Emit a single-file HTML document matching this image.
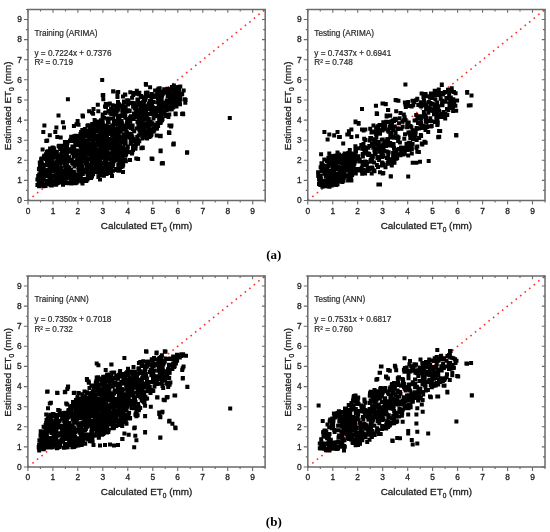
<!DOCTYPE html>
<html><head><meta charset="utf-8"><style>
html,body{margin:0;padding:0;background:#fff;}
svg{display:block;}
.tk{font-family:"Liberation Sans",Arial,sans-serif;font-size:8.4px;fill:#222;stroke:#222;stroke-width:0.3px;}
.at{font-family:"Liberation Sans",Arial,sans-serif;font-size:9.9px;fill:#222;stroke:#222;stroke-width:0.3px;}
.an{font-family:"Liberation Sans",Arial,sans-serif;font-size:8.2px;fill:#2a2a2a;stroke:#2a2a2a;stroke-width:0.2px;}
.lab{font-family:"Liberation Serif","Times New Roman",serif;font-size:13px;font-weight:bold;fill:#000;}
</style></head><body>
<svg width="550" height="532" viewBox="0 0 550 532">
<line x1="28" y1="200.5" x2="265.2" y2="9.5" stroke="#ff2a2a" stroke-width="1.6" stroke-dasharray="1.6 4.2" />
<path d="M150.6 105.1h4v4h-4zM79.7 171.5h4v4h-4zM110.2 138.7h4v4h-4zM128.8 134.7h4v4h-4zM109 107.4h4v4h-4zM138.1 102.6h4v4h-4zM158.7 97.8h4v4h-4zM74.9 172.2h4v4h-4zM111 168.8h4v4h-4zM88.8 143.3h4v4h-4zM156.6 120.9h4v4h-4zM125.2 147.4h4v4h-4zM135.8 97.5h4v4h-4zM135.1 112.8h4v4h-4zM54.6 168.6h4v4h-4zM63.7 177.1h4v4h-4zM119.9 120.6h4v4h-4zM40.7 171.8h4v4h-4zM104.7 138.1h4v4h-4zM83 159h4v4h-4zM98.8 135.7h4v4h-4zM123 152.1h4v4h-4zM88 135.2h4v4h-4zM57.5 177.7h4v4h-4zM155.8 96h4v4h-4zM97.4 165.6h4v4h-4zM143.2 105.2h4v4h-4zM98.6 172h4v4h-4zM72.4 164.6h4v4h-4zM66.7 175.8h4v4h-4zM160.2 93.5h4v4h-4zM125 131.1h4v4h-4zM123.6 149.6h4v4h-4zM104.4 146.4h4v4h-4zM129.6 100.8h4v4h-4zM143.8 93.6h4v4h-4zM171.4 86.8h4v4h-4zM62.9 140.1h4v4h-4zM59.7 151.5h4v4h-4zM126 101.6h4v4h-4zM162.2 87.2h4v4h-4zM51.8 146.2h4v4h-4zM153.8 114.2h4v4h-4zM54.2 160.6h4v4h-4zM166.5 102.2h4v4h-4zM120.5 147.5h4v4h-4zM133.5 146.8h4v4h-4zM83.7 156h4v4h-4zM132 104h4v4h-4zM103 149.4h4v4h-4zM54.9 149.9h4v4h-4zM158.8 120.6h4v4h-4zM90.4 137.3h4v4h-4zM84.1 128.9h4v4h-4zM47.1 159.2h4v4h-4zM121.3 112.7h4v4h-4zM46.6 160.2h4v4h-4zM80.7 167.4h4v4h-4zM127.4 101.2h4v4h-4zM99.8 172.6h4v4h-4zM90.9 154.9h4v4h-4zM49.4 156.6h4v4h-4zM135.5 120h4v4h-4zM147.9 101.6h4v4h-4zM74.7 137h4v4h-4zM150.8 122.5h4v4h-4zM130.5 100.9h4v4h-4zM142.5 127.6h4v4h-4zM91.3 125h4v4h-4zM40 168.5h4v4h-4zM115.8 121.7h4v4h-4zM116.7 156h4v4h-4zM91.8 167.1h4v4h-4zM55.5 159.9h4v4h-4zM182.9 97.2h4v4h-4zM172.2 94.6h4v4h-4zM48.7 183.3h4v4h-4zM120.7 127.7h4v4h-4zM146.8 101.5h4v4h-4zM171.2 104.3h4v4h-4zM142.2 128.6h4v4h-4zM43.5 184h4v4h-4zM62.4 150.7h4v4h-4zM74.6 136h4v4h-4zM77.2 134.9h4v4h-4zM128.7 137h4v4h-4zM93.9 163.1h4v4h-4zM165.1 100.4h4v4h-4zM69.4 181.4h4v4h-4zM147.7 99h4v4h-4zM84.1 178h4v4h-4zM48.6 181h4v4h-4zM120.7 164.4h4v4h-4zM77 164.2h4v4h-4zM96.8 152.9h4v4h-4zM159.4 116.3h4v4h-4zM134.8 103.4h4v4h-4zM117.2 160.8h4v4h-4zM44.7 156.6h4v4h-4zM37.3 180.2h4v4h-4zM104.8 123.9h4v4h-4zM142.3 135.6h4v4h-4zM143.9 90.7h4v4h-4zM118.9 139.2h4v4h-4zM173.9 86.1h4v4h-4zM102.5 146.7h4v4h-4zM123.4 104.8h4v4h-4zM64.1 172.1h4v4h-4zM117.5 164.7h4v4h-4zM104.4 145.6h4v4h-4zM130.6 123.6h4v4h-4zM118.2 122.6h4v4h-4zM145.9 121h4v4h-4zM104.5 159.4h4v4h-4zM110 116.6h4v4h-4zM158.2 121h4v4h-4zM101.6 155.1h4v4h-4zM118.1 150.1h4v4h-4zM136 141.8h4v4h-4zM87.5 127.9h4v4h-4zM90.4 141.6h4v4h-4zM164.1 114.1h4v4h-4zM97.6 166.9h4v4h-4zM149.4 129h4v4h-4zM90.6 138h4v4h-4zM43.4 157.1h4v4h-4zM44.3 152h4v4h-4zM71.7 147.9h4v4h-4zM91.1 147.3h4v4h-4zM113.2 146.7h4v4h-4zM65.3 180.6h4v4h-4zM98 161.1h4v4h-4zM140.7 102h4v4h-4zM149.5 132h4v4h-4zM146.8 117.2h4v4h-4zM100.8 147.6h4v4h-4zM178.3 84.6h4v4h-4zM75.2 163.2h4v4h-4zM62.4 145.3h4v4h-4zM95.5 124.8h4v4h-4zM156.7 98.5h4v4h-4zM133.8 143.5h4v4h-4zM150.1 103.9h4v4h-4zM39.8 167.2h4v4h-4zM126.2 150.3h4v4h-4zM136.1 140.4h4v4h-4zM85 134.6h4v4h-4zM138.4 125.2h4v4h-4zM80.3 127.9h4v4h-4zM139.7 95.3h4v4h-4zM156.4 94.1h4v4h-4zM117 168.8h4v4h-4zM81.6 146.5h4v4h-4zM102.8 170.4h4v4h-4zM78.6 159.7h4v4h-4zM91.4 156.3h4v4h-4zM139.1 121.7h4v4h-4zM38.9 180.7h4v4h-4zM141.3 103h4v4h-4zM143.9 110.6h4v4h-4zM104.9 170.1h4v4h-4zM75.7 140.7h4v4h-4zM53.6 172.7h4v4h-4zM105.6 164.5h4v4h-4zM90 159.9h4v4h-4zM131.4 115.2h4v4h-4zM120.1 159.1h4v4h-4zM117 102.3h4v4h-4zM121.8 132.3h4v4h-4zM59.7 145.5h4v4h-4zM156.7 95.8h4v4h-4zM116.2 157.2h4v4h-4zM90.5 137.5h4v4h-4zM137.3 139.3h4v4h-4zM50.9 165.8h4v4h-4zM172.7 92.4h4v4h-4zM172.3 89.2h4v4h-4zM113.1 158.4h4v4h-4zM146.9 93.9h4v4h-4zM155.4 113.9h4v4h-4zM164.8 98.6h4v4h-4zM102.9 149.8h4v4h-4zM88.1 142.2h4v4h-4zM84.3 159.4h4v4h-4zM147.5 123.7h4v4h-4zM81.3 157.4h4v4h-4zM100.2 143.8h4v4h-4zM174.4 97h4v4h-4zM141.1 130.7h4v4h-4zM54.6 181.7h4v4h-4zM138.7 95.2h4v4h-4zM170 92.6h4v4h-4zM174.8 85.4h4v4h-4zM103.4 139.8h4v4h-4zM183.6 98.1h4v4h-4zM156.1 124.1h4v4h-4zM90.8 159.6h4v4h-4zM105.2 127.9h4v4h-4zM92.5 126.4h4v4h-4zM148.3 120.4h4v4h-4zM83.2 147.2h4v4h-4zM79.2 147.2h4v4h-4zM121.1 108h4v4h-4zM86.9 144.5h4v4h-4zM176.6 86.3h4v4h-4zM112.7 143.6h4v4h-4zM139.7 116.4h4v4h-4zM39.6 177h4v4h-4zM71.5 180.5h4v4h-4zM58.2 174.5h4v4h-4zM47.9 163.6h4v4h-4zM135.8 138.1h4v4h-4zM73.8 141.8h4v4h-4zM130.5 135.2h4v4h-4zM37.3 173.3h4v4h-4zM152.2 128.4h4v4h-4zM71.4 170.8h4v4h-4zM141.2 133.5h4v4h-4zM110.1 126.6h4v4h-4zM95.7 167.5h4v4h-4zM120.8 103.5h4v4h-4zM139.1 101.9h4v4h-4zM98.9 149.7h4v4h-4zM91.8 133.6h4v4h-4zM79.1 149.3h4v4h-4zM60.8 174.9h4v4h-4zM104.3 170.1h4v4h-4zM78.2 164.3h4v4h-4zM77.8 155.8h4v4h-4zM84.8 143.8h4v4h-4zM173 87.6h4v4h-4zM155.2 100.2h4v4h-4zM127.7 135.4h4v4h-4zM54.1 164.1h4v4h-4zM172.4 96.5h4v4h-4zM121.9 125.3h4v4h-4zM134 111.7h4v4h-4zM94.5 129.5h4v4h-4zM169.8 107.3h4v4h-4zM142.1 113.7h4v4h-4zM123.3 114.6h4v4h-4zM51.2 165.1h4v4h-4zM128.8 125.9h4v4h-4zM119 160.6h4v4h-4zM144 108.3h4v4h-4zM98.1 124.5h4v4h-4zM151.1 100h4v4h-4zM104.8 129.7h4v4h-4zM77.4 176.2h4v4h-4zM82.1 153.3h4v4h-4zM176.2 85.1h4v4h-4zM80.4 143.7h4v4h-4zM84 140.4h4v4h-4zM178.1 94.2h4v4h-4zM78.8 161.8h4v4h-4zM78.1 173.7h4v4h-4zM146.8 128h4v4h-4zM79.2 138.3h4v4h-4zM149.7 92h4v4h-4zM164.5 87.9h4v4h-4zM141.6 102.2h4v4h-4zM123.1 146.4h4v4h-4zM111.3 159.9h4v4h-4zM132.6 111.7h4v4h-4zM92.3 141.7h4v4h-4zM85.4 123.8h4v4h-4zM140.2 130.3h4v4h-4zM54 167.1h4v4h-4zM79.3 168.9h4v4h-4zM125.8 134.2h4v4h-4zM48 162.6h4v4h-4zM44.8 180.9h4v4h-4zM165.7 113.1h4v4h-4zM54.1 172.8h4v4h-4zM109.3 107.3h4v4h-4zM95.8 147.6h4v4h-4zM74 139h4v4h-4zM82.7 177h4v4h-4zM47.5 155h4v4h-4zM78.7 174.3h4v4h-4zM143.4 96h4v4h-4zM118.4 135.5h4v4h-4zM53.9 175.9h4v4h-4zM110.1 157.5h4v4h-4zM133 145.2h4v4h-4zM168.7 94.6h4v4h-4zM174.9 99.6h4v4h-4zM96.1 138h4v4h-4zM144.7 117.6h4v4h-4zM46.2 154.5h4v4h-4zM150.4 100.1h4v4h-4zM103.5 135.6h4v4h-4zM137.4 122.2h4v4h-4zM141.5 129.8h4v4h-4zM96.6 119.5h4v4h-4zM108.5 110.8h4v4h-4zM86.2 145.5h4v4h-4zM117.7 127.5h4v4h-4zM55.7 181h4v4h-4zM83.6 154.6h4v4h-4zM74.4 134.1h4v4h-4zM136.5 102.6h4v4h-4zM44.1 163.1h4v4h-4zM82.9 149.5h4v4h-4zM47.5 149.9h4v4h-4zM120.9 145.3h4v4h-4zM143.2 129.6h4v4h-4zM146.1 119.3h4v4h-4zM167.3 87.9h4v4h-4zM150 108.8h4v4h-4zM138.9 120.9h4v4h-4zM83 132h4v4h-4zM114 153.2h4v4h-4zM130 151.5h4v4h-4zM92.2 151.4h4v4h-4zM86.5 144.3h4v4h-4zM103.5 139.7h4v4h-4zM46 149.3h4v4h-4zM50.7 145.6h4v4h-4zM53.9 173.4h4v4h-4zM89.1 163h4v4h-4zM131.1 104.7h4v4h-4zM90.2 145.9h4v4h-4zM138.8 127.5h4v4h-4zM153.9 105.9h4v4h-4zM95 158.4h4v4h-4zM131.5 101.2h4v4h-4zM158.7 112.5h4v4h-4zM135.2 135h4v4h-4zM89.9 125.2h4v4h-4zM176.6 90.8h4v4h-4zM110.8 163.8h4v4h-4zM100.7 118.2h4v4h-4zM69.1 178.3h4v4h-4zM55.6 181h4v4h-4zM87 123.7h4v4h-4zM132.2 129.3h4v4h-4zM73.2 162h4v4h-4zM107.8 136.9h4v4h-4zM103.1 151.3h4v4h-4zM97.8 161h4v4h-4zM106.4 151.3h4v4h-4zM79.3 164.3h4v4h-4zM89.5 163.6h4v4h-4zM94.8 147.4h4v4h-4zM137.5 128.3h4v4h-4zM63 181h4v4h-4zM104.5 155.5h4v4h-4zM89 165.7h4v4h-4zM115.8 104.7h4v4h-4zM167.3 112.6h4v4h-4zM107.9 168.3h4v4h-4zM106.7 116.4h4v4h-4zM92.2 129.5h4v4h-4zM135.9 109.7h4v4h-4zM159.1 110.3h4v4h-4zM83.2 156.2h4v4h-4zM128.7 139.3h4v4h-4zM68.2 171.7h4v4h-4zM148.3 134.6h4v4h-4zM91.1 145.5h4v4h-4zM103.3 155.1h4v4h-4zM142.4 98.1h4v4h-4zM139.2 108.1h4v4h-4zM150.6 95.2h4v4h-4zM86.2 149.1h4v4h-4zM114.2 152.3h4v4h-4zM71.7 154.5h4v4h-4zM45.2 179h4v4h-4zM121 109.9h4v4h-4zM99.7 135.1h4v4h-4zM112.1 107.4h4v4h-4zM151.4 126.8h4v4h-4zM115.1 118.7h4v4h-4zM43 174.3h4v4h-4zM174.4 101.1h4v4h-4zM97.3 120.3h4v4h-4zM59.9 149.8h4v4h-4zM69.2 134.7h4v4h-4zM139.7 121.6h4v4h-4zM101.9 168.2h4v4h-4zM97.1 148.6h4v4h-4zM57.9 168.1h4v4h-4zM64.3 154.2h4v4h-4zM59.1 172.4h4v4h-4zM65 157h4v4h-4zM160 108.1h4v4h-4zM109.4 131.1h4v4h-4zM151.4 129.5h4v4h-4zM109.1 131.9h4v4h-4zM102.7 123.6h4v4h-4zM151.6 93.7h4v4h-4zM90.6 133.5h4v4h-4zM102.3 124.6h4v4h-4zM70.6 179.6h4v4h-4zM133.6 142.4h4v4h-4zM76.5 178h4v4h-4zM96 143.1h4v4h-4zM48.6 173.3h4v4h-4zM46.3 174.2h4v4h-4zM137.5 119.9h4v4h-4zM83.6 168.8h4v4h-4zM87.4 174.3h4v4h-4zM47.9 171h4v4h-4zM134.1 105.8h4v4h-4zM119.5 113.6h4v4h-4zM79 166.2h4v4h-4zM49.3 177.2h4v4h-4zM159.3 96.7h4v4h-4zM123.3 138.9h4v4h-4zM138.4 113.5h4v4h-4zM88.6 153.1h4v4h-4zM108.1 110.8h4v4h-4zM85.9 141.3h4v4h-4zM155.5 93.7h4v4h-4zM76.5 135.5h4v4h-4zM100.4 155.8h4v4h-4zM78.5 167.3h4v4h-4zM84.6 129.4h4v4h-4zM159.4 118.6h4v4h-4zM92.3 158.9h4v4h-4zM130.3 116h4v4h-4zM114.2 144.1h4v4h-4zM40.6 178.8h4v4h-4zM87.9 124h4v4h-4zM51.2 160.5h4v4h-4zM98.6 140.2h4v4h-4zM147.3 130.2h4v4h-4zM123.9 125.3h4v4h-4zM74.8 135.2h4v4h-4zM71.6 159.9h4v4h-4zM171.5 91.1h4v4h-4zM113.6 158.1h4v4h-4zM124.7 121.8h4v4h-4zM120.2 138.9h4v4h-4zM44.9 160.9h4v4h-4zM104.1 159.1h4v4h-4zM79.1 129.9h4v4h-4zM78.4 132.1h4v4h-4zM161.9 109.7h4v4h-4zM157.6 107.1h4v4h-4zM80.2 138.8h4v4h-4zM166 107.6h4v4h-4zM92.5 161.5h4v4h-4zM171.5 95.1h4v4h-4zM59.8 160.3h4v4h-4zM80.5 142h4v4h-4zM89.7 127.6h4v4h-4zM105.1 153.4h4v4h-4zM154 111.2h4v4h-4zM124.2 133.9h4v4h-4zM152.3 114h4v4h-4zM73.3 178.9h4v4h-4zM120.6 154.1h4v4h-4zM150.3 121.3h4v4h-4zM67.8 169.4h4v4h-4zM119 135.4h4v4h-4zM64.9 162.2h4v4h-4zM41.6 174.3h4v4h-4zM123.6 138.1h4v4h-4zM135.5 98.2h4v4h-4zM125.1 118.5h4v4h-4zM106.5 108.9h4v4h-4zM149 94.5h4v4h-4zM37.1 184.2h4v4h-4zM81.6 134.3h4v4h-4zM94.9 163h4v4h-4zM40.8 167.8h4v4h-4zM81.7 170.3h4v4h-4zM52.1 148.2h4v4h-4zM149.2 133.3h4v4h-4zM125.4 102.3h4v4h-4zM139.1 93.9h4v4h-4zM90.2 122h4v4h-4zM41 175.1h4v4h-4zM132 111.6h4v4h-4zM38.4 168.6h4v4h-4zM137.7 116.4h4v4h-4zM129.7 133.5h4v4h-4zM120.8 136.4h4v4h-4zM144.5 115.8h4v4h-4zM109 130.2h4v4h-4zM133.6 104.2h4v4h-4zM61.7 169.9h4v4h-4zM104.3 170.5h4v4h-4zM110.9 146.8h4v4h-4zM128.4 131.7h4v4h-4zM138.7 114.6h4v4h-4zM120.8 108.6h4v4h-4zM147.3 120.4h4v4h-4zM85.6 168.1h4v4h-4zM144.2 94.8h4v4h-4zM120.7 160.2h4v4h-4zM57.2 180.5h4v4h-4zM147.1 131.8h4v4h-4zM48.1 146.5h4v4h-4zM79.2 178.3h4v4h-4zM171.9 97.9h4v4h-4zM115 133.9h4v4h-4zM89.7 170.7h4v4h-4zM169.3 98.5h4v4h-4zM150.1 110.2h4v4h-4zM120.4 110.7h4v4h-4zM83.4 161.3h4v4h-4zM78.8 174.9h4v4h-4zM60.3 160.3h4v4h-4zM44.4 174.3h4v4h-4zM68.6 137.7h4v4h-4zM138.7 131.4h4v4h-4zM73 179.7h4v4h-4zM152.5 123.5h4v4h-4zM123.7 104.6h4v4h-4zM144.5 132.4h4v4h-4zM120.3 151.9h4v4h-4zM75.9 178.7h4v4h-4zM161.7 90.4h4v4h-4zM85.1 169.8h4v4h-4zM146.5 116.9h4v4h-4zM155.3 91.8h4v4h-4zM70 180.7h4v4h-4zM136.6 116.5h4v4h-4zM181.7 88.4h4v4h-4zM144.5 111.9h4v4h-4zM98.2 147.2h4v4h-4zM50.5 157.8h4v4h-4zM157.4 109h4v4h-4zM61 182.7h4v4h-4zM79.8 148.8h4v4h-4zM57.6 145.2h4v4h-4zM141.6 117.1h4v4h-4zM61.4 171.5h4v4h-4zM148.3 104.9h4v4h-4zM73.5 181.2h4v4h-4zM148.6 128h4v4h-4zM45.4 154.5h4v4h-4zM91 155.8h4v4h-4zM101 161.5h4v4h-4zM79.1 149h4v4h-4zM93.1 129.7h4v4h-4zM103.8 110.5h4v4h-4zM37.8 160.6h4v4h-4zM89.7 171.6h4v4h-4zM91.8 127.9h4v4h-4zM119.4 104.7h4v4h-4zM73.8 134.8h4v4h-4zM50 162h4v4h-4zM96 139.7h4v4h-4zM152 94.4h4v4h-4zM136 98.4h4v4h-4zM105.3 153.7h4v4h-4zM67.4 167.4h4v4h-4zM119.7 150.5h4v4h-4zM155.4 120.9h4v4h-4zM59 158.3h4v4h-4zM151.5 116.6h4v4h-4zM125.4 122.7h4v4h-4zM142.5 107.7h4v4h-4zM44.5 172.2h4v4h-4zM125.3 125h4v4h-4zM88 132.2h4v4h-4zM126.6 150.1h4v4h-4zM126.5 108.3h4v4h-4zM91.1 168.5h4v4h-4zM176 100.6h4v4h-4zM36.6 180.5h4v4h-4zM169.8 106.9h4v4h-4zM101.2 150.7h4v4h-4zM67.1 155.3h4v4h-4zM74.1 154.8h4v4h-4zM154.8 125.5h4v4h-4zM51.8 154.9h4v4h-4zM171 88.1h4v4h-4zM128.7 126h4v4h-4zM140 107h4v4h-4zM115.4 108.7h4v4h-4zM159.2 103.8h4v4h-4zM112.4 142.1h4v4h-4zM127.7 109.1h4v4h-4zM156.7 102.6h4v4h-4zM129 114.2h4v4h-4zM61.3 169.9h4v4h-4zM61.6 144.5h4v4h-4zM77.8 134.6h4v4h-4zM103.4 139.8h4v4h-4zM96.9 165.8h4v4h-4zM75.5 149.4h4v4h-4zM91.5 125.3h4v4h-4zM135.2 115.2h4v4h-4zM176.2 100.9h4v4h-4zM44 173.8h4v4h-4zM96.3 134.1h4v4h-4zM174.5 104.5h4v4h-4zM112.2 129.9h4v4h-4zM167 87.2h4v4h-4zM106.5 144.9h4v4h-4zM84.3 179h4v4h-4zM82.9 127h4v4h-4zM101.6 138.2h4v4h-4zM74.8 180.6h4v4h-4zM39.1 157.2h4v4h-4zM106 154.5h4v4h-4zM40.7 172.4h4v4h-4zM37.5 181h4v4h-4zM156.6 108h4v4h-4zM86 142h4v4h-4zM81.1 154.3h4v4h-4zM133.8 138.6h4v4h-4zM145.5 90.4h4v4h-4zM66.6 158h4v4h-4zM100.6 171.1h4v4h-4zM117 154.8h4v4h-4zM160.5 91.3h4v4h-4zM105.7 144.1h4v4h-4zM43.6 162.9h4v4h-4zM90.4 130.1h4v4h-4zM59.1 166.9h4v4h-4zM180.2 92h4v4h-4zM173.9 89.6h4v4h-4zM136.3 113.1h4v4h-4zM132.6 146.5h4v4h-4zM115.2 168.1h4v4h-4zM130.5 139.6h4v4h-4zM108 151.8h4v4h-4zM108.2 156.4h4v4h-4zM78.3 170.5h4v4h-4zM127.8 124h4v4h-4zM100.8 166.1h4v4h-4zM177.3 90.3h4v4h-4zM111.7 122.6h4v4h-4zM101.4 155.1h4v4h-4zM85.6 172.5h4v4h-4zM92.3 149.7h4v4h-4zM154.9 122.7h4v4h-4zM101.5 146.7h4v4h-4zM100.8 120.9h4v4h-4zM118.7 145.7h4v4h-4zM121.7 151.4h4v4h-4zM151.5 112.2h4v4h-4zM69.3 170.3h4v4h-4zM126 102.4h4v4h-4zM72 145.9h4v4h-4zM108.7 109.6h4v4h-4zM118.3 147h4v4h-4zM80.8 172.1h4v4h-4zM64 153.3h4v4h-4zM155.9 87.9h4v4h-4zM67.3 175.9h4v4h-4zM78.7 162.8h4v4h-4zM136.4 123.5h4v4h-4zM89.4 160.7h4v4h-4zM49.3 165.7h4v4h-4zM135 126.6h4v4h-4zM140.8 122.8h4v4h-4zM100.4 166.6h4v4h-4zM122.8 141.6h4v4h-4zM124.6 129.7h4v4h-4zM59.4 165.5h4v4h-4zM41.2 177.4h4v4h-4zM132.1 139h4v4h-4zM96.5 166.6h4v4h-4zM112.5 112.4h4v4h-4zM94.8 137h4v4h-4zM41.5 182.8h4v4h-4zM145.1 136.6h4v4h-4zM89.3 173.8h4v4h-4zM141.5 133h4v4h-4zM156.4 86.8h4v4h-4zM48.3 172.9h4v4h-4zM62.4 150.5h4v4h-4zM132.4 114.9h4v4h-4zM67 175.8h4v4h-4zM83.7 141.9h4v4h-4zM120 156.2h4v4h-4zM140 132.2h4v4h-4zM114.4 146.4h4v4h-4zM65.1 165.4h4v4h-4zM123.7 141.8h4v4h-4zM165.7 94.3h4v4h-4zM93.1 134.8h4v4h-4zM101 130.2h4v4h-4zM98.2 153.9h4v4h-4zM101.7 132.7h4v4h-4zM151.9 93.2h4v4h-4zM94.1 162h4v4h-4zM85.4 167.7h4v4h-4zM92.4 160.6h4v4h-4zM113.5 151h4v4h-4zM116.4 168.7h4v4h-4zM75.6 143h4v4h-4zM117.4 117.3h4v4h-4zM51.6 155.1h4v4h-4zM55.4 175.3h4v4h-4zM153.8 107.9h4v4h-4zM106.4 146.6h4v4h-4zM159.7 98.9h4v4h-4zM108.1 126.9h4v4h-4zM87.5 156.5h4v4h-4zM69.9 159.6h4v4h-4zM62.6 177.6h4v4h-4zM49.7 173.4h4v4h-4zM92.1 152.9h4v4h-4zM140.2 126.5h4v4h-4zM144.1 129.3h4v4h-4zM115.7 113.4h4v4h-4zM50.3 146.6h4v4h-4zM87 144.6h4v4h-4zM171.4 85.6h4v4h-4zM68.5 175.8h4v4h-4zM119.9 156.8h4v4h-4zM130.7 126.9h4v4h-4zM47.7 171.8h4v4h-4zM89.9 172.5h4v4h-4zM125.8 145.6h4v4h-4zM98.2 150.9h4v4h-4zM165.4 102.9h4v4h-4zM92.5 158.3h4v4h-4zM170.5 103.2h4v4h-4zM70.9 172.9h4v4h-4zM166.4 114.9h4v4h-4zM161.2 105.1h4v4h-4zM67.3 159.1h4v4h-4zM158.2 105h4v4h-4zM109.9 146.4h4v4h-4zM62.7 178h4v4h-4zM91.3 123.3h4v4h-4zM80 164.6h4v4h-4zM137.1 109.5h4v4h-4zM154.9 126.7h4v4h-4zM149.1 99.1h4v4h-4zM59.6 160.8h4v4h-4zM157.7 86.3h4v4h-4zM119.4 125.1h4v4h-4zM142.7 103.6h4v4h-4zM117.7 139.6h4v4h-4zM70.4 151.3h4v4h-4zM111 142.2h4v4h-4zM147.6 112h4v4h-4zM130.4 125.7h4v4h-4zM100.6 115.4h4v4h-4zM73 173.5h4v4h-4zM61.6 181.2h4v4h-4zM104.4 165.2h4v4h-4zM158.8 102.7h4v4h-4zM170 85.3h4v4h-4zM106.4 130h4v4h-4zM132.4 102.3h4v4h-4zM94.7 155.6h4v4h-4zM144.3 121.7h4v4h-4zM71.9 137.4h4v4h-4zM79.1 166.2h4v4h-4zM123 113.4h4v4h-4zM82.8 128h4v4h-4zM158.2 91.9h4v4h-4zM107.3 156.7h4v4h-4zM160.7 91.9h4v4h-4zM145.4 116.2h4v4h-4zM55.1 159.5h4v4h-4zM131.1 115.1h4v4h-4zM61 158.3h4v4h-4zM157.2 103.1h4v4h-4zM128.3 119.4h4v4h-4zM62.9 163.5h4v4h-4zM69.7 158h4v4h-4zM84.6 148.8h4v4h-4zM137.7 100.7h4v4h-4zM49.6 155.2h4v4h-4zM112 146.5h4v4h-4zM89.1 169.2h4v4h-4zM90 174.6h4v4h-4zM91.2 157.2h4v4h-4zM104.2 162.7h4v4h-4zM112.1 134.6h4v4h-4zM113 133.7h4v4h-4zM163.7 100.6h4v4h-4zM162 109.8h4v4h-4zM115.3 154.5h4v4h-4zM56.6 179h4v4h-4zM155.6 108.8h4v4h-4zM131.1 136.9h4v4h-4zM35.4 177.6h4v4h-4zM149.5 121.3h4v4h-4zM72 175.5h4v4h-4zM97.6 132h4v4h-4zM110.8 160.6h4v4h-4zM142 99.2h4v4h-4zM41.8 176.6h4v4h-4zM93.7 154.2h4v4h-4zM88.8 164.7h4v4h-4zM171 96.1h4v4h-4zM137.5 120.5h4v4h-4zM43.4 183.9h4v4h-4zM117.9 144.5h4v4h-4zM87.6 167.2h4v4h-4zM118 142.7h4v4h-4zM72.2 161.6h4v4h-4zM57.3 143.8h4v4h-4zM149.8 94.9h4v4h-4zM114.7 137.3h4v4h-4zM86.2 145.4h4v4h-4zM164.1 106.5h4v4h-4zM96.4 175.1h4v4h-4zM96.2 158.3h4v4h-4zM161.4 102.2h4v4h-4zM179.5 92.4h4v4h-4zM133 106.5h4v4h-4zM175.4 95.1h4v4h-4zM171 99h4v4h-4zM163.3 112.8h4v4h-4zM74.3 134.3h4v4h-4zM123.4 109.9h4v4h-4zM37 178.3h4v4h-4zM94.9 136.7h4v4h-4zM152.1 110.6h4v4h-4zM84.5 132.3h4v4h-4zM75.8 156.5h4v4h-4zM160.1 118.3h4v4h-4zM97.7 130.1h4v4h-4zM158.7 104.4h4v4h-4zM152.5 114.1h4v4h-4zM139.5 94.9h4v4h-4zM48.3 148.4h4v4h-4zM153.1 88.5h4v4h-4zM115.8 144h4v4h-4zM96.2 170.8h4v4h-4zM165.7 99.4h4v4h-4zM127.9 115.5h4v4h-4zM118.3 151.2h4v4h-4zM119.9 121.4h4v4h-4zM121.2 162.7h4v4h-4zM178.5 97.6h4v4h-4zM51.9 147.2h4v4h-4zM158.2 89.8h4v4h-4zM126.5 109.3h4v4h-4zM47.2 162.2h4v4h-4zM121.2 112.6h4v4h-4zM178 102.3h4v4h-4zM86.6 136h4v4h-4zM127.2 117.1h4v4h-4zM100.6 146.2h4v4h-4zM103.1 111h4v4h-4zM96.2 121.4h4v4h-4zM78.5 143.6h4v4h-4zM111.3 124.2h4v4h-4zM131.7 117h4v4h-4zM174.6 92.7h4v4h-4zM155 125.2h4v4h-4zM94.1 168.4h4v4h-4zM165.8 93.9h4v4h-4zM110 160.7h4v4h-4zM99.4 167.4h4v4h-4zM112.1 142.4h4v4h-4zM130.3 149.8h4v4h-4zM81.6 128.7h4v4h-4zM107.4 152h4v4h-4zM41.3 184.2h4v4h-4zM49.8 175.6h4v4h-4zM96.4 168.8h4v4h-4zM102.5 159.3h4v4h-4zM47.5 177h4v4h-4zM106 119.5h4v4h-4zM139 110.3h4v4h-4zM141.2 124.6h4v4h-4zM65.3 170.3h4v4h-4zM120.9 125.3h4v4h-4zM108.7 143.9h4v4h-4zM100.1 155.2h4v4h-4zM176.6 99.3h4v4h-4zM70.4 144.5h4v4h-4zM110.2 153.4h4v4h-4zM157.1 117.5h4v4h-4zM61 179.7h4v4h-4zM71.9 151.9h4v4h-4zM64.1 141h4v4h-4zM65.1 141.4h4v4h-4zM95 160.3h4v4h-4zM104.6 172h4v4h-4zM148.1 132.7h4v4h-4zM57.6 154h4v4h-4zM99 150.9h4v4h-4zM105 133.7h4v4h-4zM106.7 117.1h4v4h-4zM158.1 107.2h4v4h-4zM119.2 119h4v4h-4zM71.2 150.4h4v4h-4zM140.8 122h4v4h-4zM56.6 144.3h4v4h-4zM52.8 149.6h4v4h-4zM88.8 149.1h4v4h-4zM116.1 126.9h4v4h-4zM115.4 154.8h4v4h-4zM57.3 169.7h4v4h-4zM49.1 149.6h4v4h-4zM139.9 110.2h4v4h-4zM123.3 115.8h4v4h-4zM48 164.4h4v4h-4zM113.9 129.9h4v4h-4zM128 134.6h4v4h-4zM81.7 135h4v4h-4zM164.6 107.9h4v4h-4zM117.5 118.3h4v4h-4zM86.1 123.3h4v4h-4zM64.4 170.8h4v4h-4zM37.2 172.6h4v4h-4zM65.5 147.1h4v4h-4zM175.4 90.7h4v4h-4zM92.6 118.1h4v4h-4zM75.3 176.2h4v4h-4zM50.1 173.8h4v4h-4zM155.5 90.9h4v4h-4zM114.1 103.8h4v4h-4zM72.1 134.3h4v4h-4zM135.4 97.6h4v4h-4zM156.4 106h4v4h-4zM115.5 142h4v4h-4zM84.2 177.3h4v4h-4zM138.2 132h4v4h-4zM143 97.7h4v4h-4zM57.1 157.4h4v4h-4zM92.9 169.9h4v4h-4zM149.7 109.2h4v4h-4zM117.8 167.5h4v4h-4zM41.6 172h4v4h-4zM123.8 127.4h4v4h-4zM103.4 144.3h4v4h-4zM117 145.9h4v4h-4zM36.9 167.3h4v4h-4zM122.2 133.2h4v4h-4zM169.3 103.9h4v4h-4zM109.2 111.9h4v4h-4zM102.9 152.5h4v4h-4zM82.9 150.2h4v4h-4zM101.8 134.2h4v4h-4zM42.2 153.7h4v4h-4zM68.2 172.4h4v4h-4zM124.5 109.4h4v4h-4zM144.5 93.2h4v4h-4zM77.7 171.7h4v4h-4zM144.3 124.7h4v4h-4zM109.6 107.3h4v4h-4zM170 84.9h4v4h-4zM55.4 156.2h4v4h-4zM103.2 134.5h4v4h-4zM154.1 94.7h4v4h-4zM79.1 159.1h4v4h-4zM79.4 179.5h4v4h-4zM115.2 133.3h4v4h-4zM116.3 163h4v4h-4zM100.7 123.5h4v4h-4zM115.1 146h4v4h-4zM134.1 109.6h4v4h-4zM126.2 121.2h4v4h-4zM171.9 83.6h4v4h-4zM82.8 140.7h4v4h-4zM61.9 169.6h4v4h-4zM106.6 120h4v4h-4zM122.9 110.8h4v4h-4zM80.3 168.8h4v4h-4zM84.1 140.3h4v4h-4zM135.2 107.8h4v4h-4zM64.9 152.7h4v4h-4zM68 139.1h4v4h-4zM164.2 113.1h4v4h-4zM113.6 127h4v4h-4zM160.5 116.9h4v4h-4zM137.2 124.3h4v4h-4zM159.9 102h4v4h-4zM107.1 138.2h4v4h-4zM89 130.7h4v4h-4zM116 153.1h4v4h-4zM144.2 105h4v4h-4zM100.7 112.5h4v4h-4zM92.8 119.2h4v4h-4zM176.2 85.4h4v4h-4zM77.7 169.9h4v4h-4zM51 166.8h4v4h-4zM165.4 86.8h4v4h-4zM109.2 106.8h4v4h-4zM88.7 123.9h4v4h-4zM168.3 88.2h4v4h-4zM66.4 181.3h4v4h-4zM105.6 126.8h4v4h-4zM91.1 172.3h4v4h-4zM108.7 110.3h4v4h-4zM114.2 133.3h4v4h-4zM88.3 157.3h4v4h-4zM90.4 151.9h4v4h-4zM168.5 107.4h4v4h-4zM155.6 113.6h4v4h-4zM138.9 105.2h4v4h-4zM102.3 151.1h4v4h-4zM159.5 98.7h4v4h-4zM103 148h4v4h-4zM85.1 131.8h4v4h-4zM136.7 133.5h4v4h-4zM54.9 171h4v4h-4zM166.8 103.3h4v4h-4zM171.2 105.5h4v4h-4zM153.5 123.2h4v4h-4zM156.4 93.6h4v4h-4zM145.2 130.1h4v4h-4zM132.7 106.4h4v4h-4zM164.9 105.2h4v4h-4zM99.2 141.1h4v4h-4zM45.2 162.1h4v4h-4zM35.4 183.1h4v4h-4zM149.3 107.9h4v4h-4zM159 89.8h4v4h-4zM99 118.3h4v4h-4zM168 97.7h4v4h-4zM132.7 115.1h4v4h-4zM52.8 162.4h4v4h-4zM41.7 164.8h4v4h-4zM77.7 161.2h4v4h-4zM124.1 152.1h4v4h-4zM118.7 136.6h4v4h-4zM116.6 107.5h4v4h-4zM75.1 152.9h4v4h-4zM176.8 93.9h4v4h-4zM118.5 129.7h4v4h-4zM47.9 148.3h4v4h-4zM82.1 177.6h4v4h-4zM122 140.5h4v4h-4zM68.1 147.7h4v4h-4zM91.5 137.7h4v4h-4zM78.8 169.9h4v4h-4zM101.5 166h4v4h-4zM177 87.2h4v4h-4zM125.7 144.4h4v4h-4zM102.8 168.8h4v4h-4zM83.9 161.4h4v4h-4zM72.1 179.2h4v4h-4zM40.7 182.5h4v4h-4zM129 140.3h4v4h-4zM128.3 124.9h4v4h-4zM117.3 148.2h4v4h-4zM46.9 182h4v4h-4zM144.7 116.5h4v4h-4zM165.6 106.4h4v4h-4zM81.8 153h4v4h-4zM77.9 136.4h4v4h-4zM96.2 151.3h4v4h-4zM68.9 168h4v4h-4zM141.3 99.9h4v4h-4zM50.3 153h4v4h-4zM91.8 167.4h4v4h-4zM114.4 152.3h4v4h-4zM87.5 142.2h4v4h-4zM139 120.6h4v4h-4zM108.1 168.5h4v4h-4zM45 168.3h4v4h-4zM148.7 119.7h4v4h-4zM94.4 120.8h4v4h-4zM130.4 123.5h4v4h-4zM140.4 136.5h4v4h-4zM129.6 116.1h4v4h-4zM145.8 107.2h4v4h-4zM106.8 136.9h4v4h-4zM86.3 131.6h4v4h-4zM81.9 152.1h4v4h-4zM167.1 90.6h4v4h-4zM71 146.9h4v4h-4zM162.7 112.1h4v4h-4zM52.3 165.7h4v4h-4zM70.3 161.5h4v4h-4zM100.9 167.9h4v4h-4zM128.6 141.7h4v4h-4zM75.1 151.2h4v4h-4zM95.7 140.5h4v4h-4zM163.1 90.8h4v4h-4zM112.6 145h4v4h-4zM140.7 120.2h4v4h-4zM62.5 161h4v4h-4zM155.7 91.7h4v4h-4zM93.2 144.1h4v4h-4zM67.5 166.1h4v4h-4zM74.9 148.6h4v4h-4zM98.7 135.9h4v4h-4zM112.8 146.2h4v4h-4zM159.7 95h4v4h-4zM55.1 165.8h4v4h-4zM175.5 101.9h4v4h-4zM158.9 113.4h4v4h-4zM119.3 113.9h4v4h-4zM85.5 177.6h4v4h-4zM170.3 99.9h4v4h-4zM142.9 96.3h4v4h-4zM123.3 105.8h4v4h-4zM146.6 124.8h4v4h-4zM140.2 104.9h4v4h-4zM175.2 98.8h4v4h-4zM57.7 170.7h4v4h-4zM131 143.9h4v4h-4zM140.2 117.5h4v4h-4zM85.1 160.3h4v4h-4zM84.4 151.7h4v4h-4zM90.1 147.3h4v4h-4zM103.2 165.3h4v4h-4zM47.4 161.7h4v4h-4zM82.9 143.2h4v4h-4zM38 162.9h4v4h-4zM118.8 137.6h4v4h-4zM92.2 155.3h4v4h-4zM39.7 163.9h4v4h-4zM90.2 147.6h4v4h-4zM59.9 175h4v4h-4zM43.3 154.9h4v4h-4zM51.5 178.9h4v4h-4zM118.3 163.2h4v4h-4zM113.7 167.1h4v4h-4zM93.2 165.7h4v4h-4zM116.1 126.2h4v4h-4zM99.9 123.4h4v4h-4zM76 135.3h4v4h-4zM91.4 157.6h4v4h-4zM39 162.9h4v4h-4zM54.1 181.3h4v4h-4zM102.3 166.8h4v4h-4zM89.1 175.9h4v4h-4zM55.9 174.7h4v4h-4zM113.4 155.2h4v4h-4zM93.9 127h4v4h-4zM78.7 153.7h4v4h-4zM67.5 149.6h4v4h-4zM84.7 163.9h4v4h-4zM106.5 117.5h4v4h-4zM49.4 167.9h4v4h-4zM59.8 175.2h4v4h-4zM104.8 137.9h4v4h-4zM86.6 145h4v4h-4zM118.8 151.3h4v4h-4zM78.7 144.4h4v4h-4zM102.2 115.7h4v4h-4zM108.4 171.1h4v4h-4zM110.1 164.2h4v4h-4zM58.2 146.9h4v4h-4zM83.1 129.7h4v4h-4zM119.8 159.7h4v4h-4zM98.4 169.8h4v4h-4zM78.3 151h4v4h-4zM73.6 133.7h4v4h-4zM58.9 175.7h4v4h-4zM39.9 161.3h4v4h-4zM65.7 149.1h4v4h-4zM49.8 183.5h4v4h-4zM72 180.8h4v4h-4zM81.3 177h4v4h-4zM44.8 160.8h4v4h-4zM67.3 175.1h4v4h-4zM52.6 179.6h4v4h-4zM71.9 169.8h4v4h-4zM39.7 167.8h4v4h-4zM112.3 133.5h4v4h-4zM111.9 119h4v4h-4zM49.5 167.5h4v4h-4zM91.9 133.9h4v4h-4zM97.5 121h4v4h-4zM113.4 152.9h4v4h-4zM119.2 154.4h4v4h-4zM85.9 173.9h4v4h-4zM89.5 131.9h4v4h-4zM89.3 172.1h4v4h-4zM63.6 158.7h4v4h-4zM101.7 167.3h4v4h-4zM101.9 173.7h4v4h-4zM99.2 144.2h4v4h-4zM36.2 173.9h4v4h-4zM48.2 174.4h4v4h-4zM108.8 163.2h4v4h-4zM117.8 147.7h4v4h-4zM82.8 144.3h4v4h-4zM69.9 158.4h4v4h-4zM96.2 170.6h4v4h-4zM107.3 170.3h4v4h-4zM94.3 120.4h4v4h-4zM116.1 116.6h4v4h-4zM82.9 138.9h4v4h-4zM43.9 156.5h4v4h-4zM63.6 167.1h4v4h-4zM100.8 168.1h4v4h-4zM43.2 182.4h4v4h-4zM86.3 150.5h4v4h-4zM95 124h4v4h-4zM116.8 147.2h4v4h-4zM46.8 182.3h4v4h-4zM86.7 166.3h4v4h-4zM106.5 161.8h4v4h-4zM39.6 156.5h4v4h-4zM108.2 124.4h4v4h-4zM118.8 120.4h4v4h-4zM116.7 165.8h4v4h-4zM81.7 133.3h4v4h-4zM116.7 133.4h4v4h-4zM64.6 152.4h4v4h-4zM120.3 164h4v4h-4zM101.4 141.8h4v4h-4zM114.6 120h4v4h-4zM97.6 123.6h4v4h-4zM96.3 152h4v4h-4zM96.6 162.3h4v4h-4zM105 145.7h4v4h-4zM85.8 128.7h4v4h-4zM70.2 149.2h4v4h-4zM77.6 135.1h4v4h-4zM90.4 139.8h4v4h-4zM111.4 145.6h4v4h-4zM66.6 159.3h4v4h-4zM113.8 122.6h4v4h-4zM111.9 139.1h4v4h-4zM67.2 170.8h4v4h-4zM85.8 152.3h4v4h-4zM85.7 167h4v4h-4zM113.4 139.8h4v4h-4zM64 173.3h4v4h-4zM56.8 175.2h4v4h-4zM97.9 173.1h4v4h-4zM98.6 147h4v4h-4zM47.1 172.8h4v4h-4zM84.8 152.2h4v4h-4zM103.6 152.5h4v4h-4zM85.4 166.1h4v4h-4zM107.4 162.9h4v4h-4zM109.4 171.1h4v4h-4zM119.5 148.7h4v4h-4zM80.6 152h4v4h-4zM69 168.1h4v4h-4zM49.8 167.7h4v4h-4zM87.8 175.4h4v4h-4zM65.5 140h4v4h-4zM103.9 148.2h4v4h-4zM81.4 178.2h4v4h-4zM103.2 133.4h4v4h-4zM119.1 164h4v4h-4zM95.1 147.8h4v4h-4zM46.1 150.3h4v4h-4zM81.2 159.8h4v4h-4zM111.8 159h4v4h-4zM69.2 180h4v4h-4zM108.9 125.6h4v4h-4zM95.8 138.1h4v4h-4zM93.8 162.3h4v4h-4zM91.8 157.5h4v4h-4zM93 168.1h4v4h-4zM64.8 173.4h4v4h-4zM93 135.5h4v4h-4zM91.5 137.8h4v4h-4zM79.3 151.4h4v4h-4zM98 132.1h4v4h-4zM94.6 127.4h4v4h-4zM105.4 127.2h4v4h-4zM88.3 134.1h4v4h-4zM86.1 133.1h4v4h-4zM74.1 174.8h4v4h-4zM119.4 147.6h4v4h-4zM114 148.7h4v4h-4zM123.9 159.2h4v4h-4zM41 177.2h4v4h-4zM47.4 157.5h4v4h-4zM116 129.6h4v4h-4zM68.3 157.8h4v4h-4zM61.7 146.7h4v4h-4zM116.2 118.7h4v4h-4zM103.8 125.5h4v4h-4zM107.2 140h4v4h-4zM117.8 137h4v4h-4zM114.5 153.7h4v4h-4zM109.1 166.3h4v4h-4zM85.2 140.1h4v4h-4zM106.8 167.2h4v4h-4zM100 152.2h4v4h-4zM117 127.1h4v4h-4zM90.2 141.3h4v4h-4zM118.8 135.6h4v4h-4zM56.2 167.2h4v4h-4zM107.1 163.6h4v4h-4zM104.7 124.3h4v4h-4zM88.8 150h4v4h-4zM115.9 139.6h4v4h-4zM97.1 163.6h4v4h-4zM76.5 139.6h4v4h-4zM117.9 143.6h4v4h-4zM46.2 168.1h4v4h-4zM89.5 172h4v4h-4zM47.1 157h4v4h-4zM88.8 148.5h4v4h-4zM72.9 150.3h4v4h-4zM120.2 136.2h4v4h-4zM115.9 135.7h4v4h-4zM118.5 120.1h4v4h-4zM93.9 154.9h4v4h-4zM93.8 169.2h4v4h-4zM41.6 165.1h4v4h-4zM110.4 152.5h4v4h-4zM98.8 170.1h4v4h-4zM108.9 157.6h4v4h-4zM72.1 180.7h4v4h-4zM79.3 135.8h4v4h-4zM69.9 147h4v4h-4zM41.9 155h4v4h-4zM86.8 163h4v4h-4zM98 137.5h4v4h-4zM88.2 130.2h4v4h-4zM78.8 158.3h4v4h-4zM76.2 161.9h4v4h-4zM81.2 143.8h4v4h-4zM123.7 153.2h4v4h-4zM39.1 158h4v4h-4zM50.4 180.3h4v4h-4zM52.2 182.1h4v4h-4zM116.3 148.6h4v4h-4zM76.3 139h4v4h-4zM101.7 124h4v4h-4zM116.8 143.6h4v4h-4zM39.7 163.4h4v4h-4zM44.3 172.7h4v4h-4zM50.7 169.1h4v4h-4zM61.1 155.1h4v4h-4zM89.8 124.1h4v4h-4zM88.4 164h4v4h-4zM37.4 166.5h4v4h-4zM63.9 167h4v4h-4zM71.2 161.8h4v4h-4zM89.8 170.6h4v4h-4zM100.5 127.8h4v4h-4zM110.1 133.1h4v4h-4zM116.5 118.4h4v4h-4zM71.6 139h4v4h-4zM62 149.9h4v4h-4zM81.7 169.2h4v4h-4zM99.4 124.7h4v4h-4zM43.3 168.3h4v4h-4zM37.3 177.7h4v4h-4zM101.1 167.4h4v4h-4zM57.7 180h4v4h-4zM109.2 140.4h4v4h-4zM60.8 169.1h4v4h-4zM117.3 141.9h4v4h-4zM59.1 153.1h4v4h-4zM42.7 172.1h4v4h-4zM79.7 146.1h4v4h-4zM107.7 127.1h4v4h-4zM80.1 143.1h4v4h-4zM84.4 165.5h4v4h-4zM116 116.8h4v4h-4zM121.6 140.7h4v4h-4zM104.5 134.7h4v4h-4zM100 161.1h4v4h-4zM36.7 174.9h4v4h-4zM54.3 154.1h4v4h-4zM51.2 155.4h4v4h-4zM103.5 154.2h4v4h-4zM109.6 138.4h4v4h-4zM94.5 143.3h4v4h-4zM116.5 117.1h4v4h-4zM112.4 111h4v4h-4zM111.1 116.4h4v4h-4zM104.5 126.6h4v4h-4zM41.3 174.8h4v4h-4zM86.3 173.1h4v4h-4zM105.5 117h4v4h-4zM43.6 163.3h4v4h-4zM110.3 123.4h4v4h-4zM113.9 112h4v4h-4zM103.4 156.8h4v4h-4zM69.3 138.5h4v4h-4zM62.4 145.4h4v4h-4zM112 131.6h4v4h-4zM102.2 166.9h4v4h-4zM72.2 145.6h4v4h-4zM115.2 127.6h4v4h-4zM80 164.3h4v4h-4zM65 145.2h4v4h-4zM38.1 160.8h4v4h-4zM55 163.5h4v4h-4zM96.2 127.1h4v4h-4zM105.4 148.9h4v4h-4zM49.8 164.6h4v4h-4zM120.9 145.4h4v4h-4zM47.6 164.4h4v4h-4zM83 170.2h4v4h-4zM88.9 175h4v4h-4zM88.6 168h4v4h-4zM54.5 153.6h4v4h-4zM58.8 166.2h4v4h-4zM119.1 165h4v4h-4zM47.5 182.3h4v4h-4zM53.8 165.7h4v4h-4zM98.9 164.8h4v4h-4zM65.9 164.8h4v4h-4zM92.3 121.9h4v4h-4zM47.9 181.9h4v4h-4zM85.9 147.6h4v4h-4zM45 149.7h4v4h-4zM43.8 152.8h4v4h-4zM55.1 169.8h4v4h-4zM93.5 148.5h4v4h-4zM86.6 143h4v4h-4zM78.5 176.8h4v4h-4zM117.1 156.9h4v4h-4zM60.3 143.7h4v4h-4zM72.9 149.5h4v4h-4zM121.1 127.1h4v4h-4zM91.7 149.4h4v4h-4zM86.7 137.6h4v4h-4zM114.2 151.5h4v4h-4zM111.2 161.7h4v4h-4zM95.4 160h4v4h-4zM104.1 170.6h4v4h-4zM95.8 133.9h4v4h-4zM111.2 146.2h4v4h-4zM50.7 148.4h4v4h-4zM98 157.9h4v4h-4zM114.5 168h4v4h-4zM112.1 138.7h4v4h-4zM57.1 172.9h4v4h-4zM93.3 159.7h4v4h-4zM66.5 175h4v4h-4zM50.9 153.2h4v4h-4zM66.1 149.8h4v4h-4zM76.1 153.2h4v4h-4zM53.2 155.1h4v4h-4zM53.9 182.7h4v4h-4zM59.1 152.3h4v4h-4zM74.7 159.1h4v4h-4zM113.9 152.6h4v4h-4zM91.3 152h4v4h-4zM77.2 163.7h4v4h-4zM76.4 168h4v4h-4zM116.2 153.1h4v4h-4zM101.6 153.1h4v4h-4zM77.7 151.6h4v4h-4zM121.7 123.7h4v4h-4zM114.4 148.2h4v4h-4zM93.3 128.3h4v4h-4zM47.8 153.2h4v4h-4zM115.4 141.2h4v4h-4zM119.8 162.6h4v4h-4zM36.7 179.6h4v4h-4zM73.3 152.9h4v4h-4zM73.2 143.1h4v4h-4zM118.2 134.4h4v4h-4zM91.4 146.3h4v4h-4zM104.3 155h4v4h-4zM123.3 157.5h4v4h-4zM65.4 141.3h4v4h-4zM111.2 137.4h4v4h-4zM117.5 142.8h4v4h-4zM118.9 121.2h4v4h-4zM104.8 143.1h4v4h-4zM55.2 154h4v4h-4zM110.4 149h4v4h-4zM118.2 126.8h4v4h-4zM46.1 173.3h4v4h-4zM97.2 128.4h4v4h-4zM73.6 178.9h4v4h-4zM57.9 161.8h4v4h-4zM45.2 138.4h4v4h-4zM91.1 111.8h4v4h-4zM136.7 92.3h4v4h-4zM104 105.1h4v4h-4zM121 94.6h4v4h-4zM134.8 88.8h4v4h-4zM71.9 123.9h4v4h-4zM96.3 109.3h4v4h-4zM75.6 119h4v4h-4zM76.5 122.8h4v4h-4zM122.9 92.6h4v4h-4zM90 110.4h4v4h-4zM116 100h4v4h-4zM130.1 95.7h4v4h-4zM74.5 122.3h4v4h-4zM81 114.5h4v4h-4zM105.9 102.7h4v4h-4zM103.8 101.9h4v4h-4zM128.3 90.2h4v4h-4zM55.3 134.9h4v4h-4zM103 104.4h4v4h-4zM123.3 92.7h4v4h-4zM131.2 93h4v4h-4zM227.8 115.9h4v4h-4zM185 150.7h4v4h-4zM171.8 142.2h4v4h-4zM160.6 161h4v4h-4zM150.2 156.7h4v4h-4zM158.7 149.2h4v4h-4zM140.8 146h4v4h-4zM181.2 112.2h4v4h-4zM173.7 112.2h4v4h-4zM169 124.4h4v4h-4zM167.1 131h4v4h-4zM158.7 133.8h4v4h-4zM140.6 145.6h4v4h-4zM136.1 156.9h4v4h-4zM150.4 156.9h4v4h-4zM158.7 148.6h4v4h-4zM160.9 161.4h4v4h-4zM158 134.3h4v4h-4zM134.3 156.5h4v4h-4zM149.6 156.5h4v4h-4zM159.8 161.6h4v4h-4zM158.5 148.9h4v4h-4zM171.2 142.5h4v4h-4zM185.2 150.2h4v4h-4zM139.4 146.3h4v4h-4zM147 134.9h4v4h-4zM154.7 133.6h4v4h-4zM167.4 123.4h4v4h-4zM167.4 131.1h4v4h-4zM180.1 112h4v4h-4zM100.2 78.1h4v4h-4zM65.9 97.3h4v4h-4zM56.5 113.6h4v4h-4zM42.4 123.5h4v4h-4zM41.3 130h4v4h-4zM47.8 133.3h4v4h-4zM54.4 125.6h4v4h-4zM60.9 120.2h4v4h-4zM62 125.6h4v4h-4zM53.3 130h4v4h-4zM58.7 135.5h4v4h-4zM80.5 113.6h4v4h-4zM87.1 109.3h4v4h-4zM91.5 107.1h4v4h-4zM95.8 102.7h4v4h-4zM101.3 97.3h4v4h-4zM101.3 92.9h4v4h-4zM111.1 89.6h4v4h-4zM115.5 90.7h4v4h-4zM115.5 95.1h4v4h-4zM107.8 101.6h4v4h-4zM122 99.5h4v4h-4zM126.4 98.4h4v4h-4zM132.9 91.8h4v4h-4zM137.3 90.7h4v4h-4zM143.8 82h4v4h-4zM144 82.7h4v4h-4zM148.1 85.2h4v4h-4zM111.3 89.3h4v4h-4zM116.2 90.1h4v4h-4zM115.4 94.2h4v4h-4zM131.7 90.9h4v4h-4zM136.6 90.9h4v4h-4zM125.2 98.3h4v4h-4zM121.9 99.9h4v4h-4zM173.5 111.4h4v4h-4zM180.8 111.4h4v4h-4zM169.4 123.6h4v4h-4zM166.9 130.2h4v4h-4zM158.7 134.3h4v4h-4zM171.8 141.6h4v4h-4zM177.6 98.3h4v4h-4zM183.3 100.7h4v4h-4zM110.5 103.2h4v4h-4zM100.7 93.3h4v4h-4zM80.5 181.6h4v4h-4zM66.4 180.7h4v4h-4zM98 177.5h4v4h-4zM110 174h4v4h-4zM121 170h4v4h-4zM128 158h4v4h-4zM131 148h4v4h-4zM40.6 147.5h4v4h-4zM44.3 139h4v4h-4z" fill="#000"/>
<path d="M28 200.5v4M28 9.5v3.2M28 200.5h-4M265.2 200.5h-3.2M40.5 200.5v2M40.5 9.5v2M28 190.4h-2M265.2 190.4h-2M53 200.5v4M53 9.5v3.2M28 180.4h-4M265.2 180.4h-3.2M65.5 200.5v2M65.5 9.5v2M28 170.3h-2M265.2 170.3h-2M77.9 200.5v4M77.9 9.5v3.2M28 160.3h-4M265.2 160.3h-3.2M90.4 200.5v2M90.4 9.5v2M28 150.2h-2M265.2 150.2h-2M102.9 200.5v4M102.9 9.5v3.2M28 140.2h-4M265.2 140.2h-3.2M115.4 200.5v2M115.4 9.5v2M28 130.1h-2M265.2 130.1h-2M127.9 200.5v4M127.9 9.5v3.2M28 120.1h-4M265.2 120.1h-3.2M140.4 200.5v2M140.4 9.5v2M28 110h-2M265.2 110h-2M152.8 200.5v4M152.8 9.5v3.2M28 100h-4M265.2 100h-3.2M165.3 200.5v2M165.3 9.5v2M28 89.9h-2M265.2 89.9h-2M177.8 200.5v4M177.8 9.5v3.2M28 79.8h-4M265.2 79.8h-3.2M190.3 200.5v2M190.3 9.5v2M28 69.8h-2M265.2 69.8h-2M202.8 200.5v4M202.8 9.5v3.2M28 59.7h-4M265.2 59.7h-3.2M215.3 200.5v2M215.3 9.5v2M28 49.7h-2M265.2 49.7h-2M227.8 200.5v4M227.8 9.5v3.2M28 39.6h-4M265.2 39.6h-3.2M240.2 200.5v2M240.2 9.5v2M28 29.6h-2M265.2 29.6h-2M252.7 200.5v4M252.7 9.5v3.2M28 19.5h-4M265.2 19.5h-3.2M265.2 200.5v2M265.2 9.5v2M28 9.5h-2M265.2 9.5h-2" stroke="#6a6a6a" stroke-width="1.1" fill="none"/>
<rect x="28" y="9.5" width="237.2" height="191" fill="none" stroke="#6a6a6a" stroke-width="1.5"/>
<text x="28" y="213.8" class="tk" text-anchor="middle">0</text>
<text x="21.8" y="203.3" class="tk" text-anchor="end">0</text>
<text x="53" y="213.8" class="tk" text-anchor="middle">1</text>
<text x="21.8" y="183.2" class="tk" text-anchor="end">1</text>
<text x="77.9" y="213.8" class="tk" text-anchor="middle">2</text>
<text x="21.8" y="163.1" class="tk" text-anchor="end">2</text>
<text x="102.9" y="213.8" class="tk" text-anchor="middle">3</text>
<text x="21.8" y="143" class="tk" text-anchor="end">3</text>
<text x="127.9" y="213.8" class="tk" text-anchor="middle">4</text>
<text x="21.8" y="122.9" class="tk" text-anchor="end">4</text>
<text x="152.8" y="213.8" class="tk" text-anchor="middle">5</text>
<text x="21.8" y="102.8" class="tk" text-anchor="end">5</text>
<text x="177.8" y="213.8" class="tk" text-anchor="middle">6</text>
<text x="21.8" y="82.6" class="tk" text-anchor="end">6</text>
<text x="202.8" y="213.8" class="tk" text-anchor="middle">7</text>
<text x="21.8" y="62.5" class="tk" text-anchor="end">7</text>
<text x="227.8" y="213.8" class="tk" text-anchor="middle">8</text>
<text x="21.8" y="42.4" class="tk" text-anchor="end">8</text>
<text x="252.7" y="213.8" class="tk" text-anchor="middle">9</text>
<text x="21.8" y="22.3" class="tk" text-anchor="end">9</text>
<text x="146.6" y="228.7" class="at" text-anchor="middle">Calculated ET<tspan font-size="6.6" dy="3.2">0</tspan><tspan dy="-3.2"> (mm)</tspan></text>
<text transform="translate(11 105.8) rotate(-90)" class="at" text-anchor="middle">Estimated ET<tspan font-size="6.6" dy="3.2">0</tspan><tspan dy="-3.2"> (mm)</tspan></text>
<text x="34.5" y="35.7" class="an">Training (ARIMA)</text>
<text x="34.5" y="55.6" class="an">y = 0.7224x + 0.7376</text>
<text x="34.5" y="65.1" class="an">R² = 0.719</text>
<line x1="307.8" y1="200.5" x2="545" y2="9.5" stroke="#ff2a2a" stroke-width="1.6" stroke-dasharray="1.6 4.2" />
<path d="M378 131.7h4v4h-4zM339.9 176.3h4v4h-4zM316.2 172.7h4v4h-4zM379.7 148.4h4v4h-4zM356.3 154.3h4v4h-4zM366.3 151.6h4v4h-4zM371.3 130h4v4h-4zM382.4 126.8h4v4h-4zM337.3 176.8h4v4h-4zM367.1 167.2h4v4h-4zM344.8 157.4h4v4h-4zM381.3 142.3h4v4h-4zM394.3 156.8h4v4h-4zM364.3 160.1h4v4h-4zM393.4 131h4v4h-4zM369.7 136.9h4v4h-4zM385.9 161.8h4v4h-4zM326.4 174.3h4v4h-4zM331.2 180h4v4h-4zM386.7 160.3h4v4h-4zM361.5 142.1h4v4h-4zM318.9 176.5h4v4h-4zM353.3 153.9h4v4h-4zM341.6 167.9h4v4h-4zM350.1 152.2h4v4h-4zM385.8 139.9h4v4h-4zM363.1 163.2h4v4h-4zM344.3 151.9h4v4h-4zM327.9 180.4h4v4h-4zM380.8 125.6h4v4h-4zM349.4 172.3h4v4h-4zM379.4 151.5h4v4h-4zM374 131.8h4v4h-4zM391.8 155.6h4v4h-4zM392.2 146.8h4v4h-4zM394.4 151.7h4v4h-4zM375.4 156.1h4v4h-4zM335.9 171.7h4v4h-4zM370.1 165.5h4v4h-4zM332.9 179.2h4v4h-4zM383.2 123.9h4v4h-4zM364.2 149.2h4v4h-4zM363.5 161.6h4v4h-4zM353.2 159.4h4v4h-4zM386.2 152.2h4v4h-4zM389.2 119.4h4v4h-4zM330.8 155.2h4v4h-4zM329.1 162.8h4v4h-4zM391.1 153.2h4v4h-4zM380.9 161.5h4v4h-4zM384.3 119.7h4v4h-4zM324.8 159.3h4v4h-4zM379.8 137.8h4v4h-4zM326.2 169h4v4h-4zM386.6 129.8h4v4h-4zM361.8 160.1h4v4h-4zM368.8 159.7h4v4h-4zM342 165.9h4v4h-4zM352.4 161.4h4v4h-4zM326.5 161.8h4v4h-4zM382.4 142.1h4v4h-4zM345.6 153.3h4v4h-4zM322.3 168h4v4h-4zM362.2 136.8h4v4h-4zM322 168.7h4v4h-4zM388.5 134.7h4v4h-4zM340.4 173.5h4v4h-4zM345.9 165.1h4v4h-4zM323.6 166.2h4v4h-4zM369.9 141.7h4v4h-4zM376.5 129.3h4v4h-4zM337.2 153.1h4v4h-4zM379.9 160.5h4v4h-4zM378.1 143.4h4v4h-4zM373.6 146.8h4v4h-4zM318.5 174.3h4v4h-4zM359.3 142.9h4v4h-4zM359.8 165.8h4v4h-4zM346.4 173.3h4v4h-4zM389.5 142.9h4v4h-4zM326.9 168.5h4v4h-4zM395.4 126.4h4v4h-4zM389.6 124.7h4v4h-4zM323.2 184.2h4v4h-4zM361.9 146.9h4v4h-4zM376 129.3h4v4h-4zM389.1 131.1h4v4h-4zM373.5 147.5h4v4h-4zM320.4 184.7h4v4h-4zM384.8 149.5h4v4h-4zM330.5 162.3h4v4h-4zM337.1 152.5h4v4h-4zM366.2 153.1h4v4h-4zM347.5 170.6h4v4h-4zM385.8 128.5h4v4h-4zM334.3 182.9h4v4h-4zM370.5 166.8h4v4h-4zM376.5 127.6h4v4h-4zM389.5 157.2h4v4h-4zM323.1 182.6h4v4h-4zM361.9 171.5h4v4h-4zM338.4 171.4h4v4h-4zM372.2 160.5h4v4h-4zM392 146h4v4h-4zM349.1 163.8h4v4h-4zM382.8 139.3h4v4h-4zM369.5 130.6h4v4h-4zM360 169.1h4v4h-4zM321 166.3h4v4h-4zM317 182.1h4v4h-4zM353.4 144.3h4v4h-4zM373.6 152.2h4v4h-4zM360.9 154.6h4v4h-4zM390.6 118.9h4v4h-4zM352.1 159.6h4v4h-4zM331.5 176.7h4v4h-4zM376 164.9h4v4h-4zM360.2 171.7h4v4h-4zM353.2 158.9h4v4h-4zM381.5 162.9h4v4h-4zM367.3 144.1h4v4h-4zM360.6 143.5h4v4h-4zM375.5 142.4h4v4h-4zM353.2 168.2h4v4h-4zM382.1 142.4h4v4h-4zM351.7 165.2h4v4h-4zM384.8 156.1h4v4h-4zM360.5 161.9h4v4h-4zM370.1 156.4h4v4h-4zM345.6 156.2h4v4h-4zM386.7 150.2h4v4h-4zM385.3 137.7h4v4h-4zM349.5 173.2h4v4h-4zM382.2 148.8h4v4h-4zM377.4 147.7h4v4h-4zM345.7 153.8h4v4h-4zM372.5 169.2h4v4h-4zM320.3 166.6h4v4h-4zM381.4 146.8h4v4h-4zM320.8 163.2h4v4h-4zM335.5 160.5h4v4h-4zM346 160h4v4h-4zM357.9 159.6h4v4h-4zM332.1 182.4h4v4h-4zM349.7 169.3h4v4h-4zM372.7 129.7h4v4h-4zM377.4 149.8h4v4h-4zM365.6 169h4v4h-4zM376 139.9h4v4h-4zM351.2 160.2h4v4h-4zM392.9 118h4v4h-4zM337.4 170.7h4v4h-4zM330.6 158.7h4v4h-4zM381.3 127.3h4v4h-4zM369 157.5h4v4h-4zM377.7 130.9h4v4h-4zM318.4 173.4h4v4h-4zM364.9 162h4v4h-4zM370.2 155.4h4v4h-4zM392.2 158h4v4h-4zM342.7 151.5h4v4h-4zM371.5 145.2h4v4h-4zM390.2 135.4h4v4h-4zM384.3 143.9h4v4h-4zM316.1 170.3h4v4h-4zM379.9 163.4h4v4h-4zM391.1 134.7h4v4h-4zM381.2 124.3h4v4h-4zM377.1 158h4v4h-4zM340.9 159.5h4v4h-4zM339.3 168.3h4v4h-4zM366.8 167.1h4v4h-4zM346.1 166.1h4v4h-4zM371.8 142.9h4v4h-4zM317.9 182.4h4v4h-4zM373 130.3h4v4h-4zM374.4 135.4h4v4h-4zM337.7 155.6h4v4h-4zM325.8 177.1h4v4h-4zM353.8 171.6h4v4h-4zM345.4 168.5h4v4h-4zM381 148.5h4v4h-4zM392.3 156.1h4v4h-4zM367.7 138.5h4v4h-4zM361.6 168h4v4h-4zM363.1 171.4h4v4h-4zM362.5 150h4v4h-4zM329.1 158.8h4v4h-4zM381.3 125.5h4v4h-4zM359.5 166.7h4v4h-4zM345.7 153.5h4v4h-4zM370.9 154.7h4v4h-4zM324.4 172.5h4v4h-4zM389.9 123.2h4v4h-4zM389.7 121h4v4h-4zM357.8 167.5h4v4h-4zM376 124.2h4v4h-4zM380.6 137.6h4v4h-4zM385.7 127.4h4v4h-4zM352.4 161.7h4v4h-4zM344.4 156.6h4v4h-4zM342.4 168.2h4v4h-4zM376.3 144.2h4v4h-4zM340.7 166.8h4v4h-4zM350.9 157.7h4v4h-4zM390.8 126.2h4v4h-4zM372.9 148.9h4v4h-4zM326.4 183.1h4v4h-4zM388.4 123.3h4v4h-4zM391 118.5h4v4h-4zM389.4 158.3h4v4h-4zM352.6 155h4v4h-4zM374.9 162.9h4v4h-4zM395.8 127h4v4h-4zM381 144.5h4v4h-4zM395.4 134.5h4v4h-4zM391.6 141.9h4v4h-4zM391.2 144.1h4v4h-4zM345.9 168.3h4v4h-4zM353.6 147h4v4h-4zM376.3 155h4v4h-4zM369.7 171.4h4v4h-4zM376.8 141.9h4v4h-4zM341.7 160h4v4h-4zM371.7 168.2h4v4h-4zM339.6 160h4v4h-4zM343.7 158.1h4v4h-4zM393.6 130.1h4v4h-4zM395.3 135.9h4v4h-4zM392 119.1h4v4h-4zM357.6 157.6h4v4h-4zM372.1 139.3h4v4h-4zM318.3 180h4v4h-4zM335.5 182.3h4v4h-4zM387.8 160h4v4h-4zM328.3 178.3h4v4h-4zM322.7 171h4v4h-4zM370 153.8h4v4h-4zM336.7 156.4h4v4h-4zM367.2 151.9h4v4h-4zM317 177.5h4v4h-4zM378.9 147.3h4v4h-4zM335.4 175.8h4v4h-4zM372.9 150.8h4v4h-4zM391.1 150.9h4v4h-4zM395.2 156h4v4h-4zM356.2 146.2h4v4h-4zM348.5 173.6h4v4h-4zM365.8 166.4h4v4h-4zM371.8 129.6h4v4h-4zM350.2 161.6h4v4h-4zM346.4 150.9h4v4h-4zM339.5 161.4h4v4h-4zM329.7 178.6h4v4h-4zM392.8 150.1h4v4h-4zM339 171.5h4v4h-4zM338.8 165.7h4v4h-4zM342.6 157.7h4v4h-4zM390.1 119.9h4v4h-4zM380.5 153.5h4v4h-4zM380.5 128.4h4v4h-4zM393.6 130.1h4v4h-4zM365.7 152.1h4v4h-4zM326.1 171.3h4v4h-4zM389.8 126h4v4h-4zM362.6 145.3h4v4h-4zM369.1 136.1h4v4h-4zM347.8 148.1h4v4h-4zM388.3 133.1h4v4h-4zM373.4 137.5h4v4h-4zM387.5 143.3h4v4h-4zM326.8 184.4h4v4h-4zM363.3 138.1h4v4h-4zM324.5 172h4v4h-4zM380.3 154.9h4v4h-4zM366.3 145.7h4v4h-4zM385.1 143h4v4h-4zM361 168.9h4v4h-4zM374.4 133.9h4v4h-4zM378.3 128.3h4v4h-4zM367.1 165.7h4v4h-4zM353.4 148.2h4v4h-4zM338.6 179.5h4v4h-4zM341.2 164h4v4h-4zM391.8 118.3h4v4h-4zM340.2 157.6h4v4h-4zM342.2 155.4h4v4h-4zM392.8 124.4h4v4h-4zM385.6 161.1h4v4h-4zM339.4 169.7h4v4h-4zM339 177.8h4v4h-4zM376 147.1h4v4h-4zM339.6 154h4v4h-4zM394.7 147.8h4v4h-4zM377.5 122.9h4v4h-4zM385.9 156.2h4v4h-4zM385.5 120.1h4v4h-4zM373.2 129.8h4v4h-4zM363.2 159.4h4v4h-4zM381.4 154h4v4h-4zM356.9 168.5h4v4h-4zM368.3 136.1h4v4h-4zM386.4 157.4h4v4h-4zM346.6 156.3h4v4h-4zM372.4 148.6h4v4h-4zM381.1 149.6h4v4h-4zM393.1 135.6h4v4h-4zM326 173.3h4v4h-4zM339.6 174.5h4v4h-4zM364.7 151.2h4v4h-4zM322.8 170.3h4v4h-4zM321.1 182.6h4v4h-4zM386.1 137h4v4h-4zM326.1 177.1h4v4h-4zM348.5 160.2h4v4h-4zM389.1 143.6h4v4h-4zM336.8 154.4h4v4h-4zM322.5 165.2h4v4h-4zM339.3 178.1h4v4h-4zM374.1 125.6h4v4h-4zM360.7 152.1h4v4h-4zM391.8 135.7h4v4h-4zM326 179.2h4v4h-4zM387.2 157.4h4v4h-4zM369.7 166.6h4v4h-4zM356.2 166.9h4v4h-4zM368.5 158.6h4v4h-4zM387.8 124.7h4v4h-4zM391.1 128h4v4h-4zM348.7 153.8h4v4h-4zM374.9 140.1h4v4h-4zM321.8 164.9h4v4h-4zM393.8 117.4h4v4h-4zM377.9 128.3h4v4h-4zM352.7 152.2h4v4h-4zM370.9 143.2h4v4h-4zM373.1 148.3h4v4h-4zM343.4 158.8h4v4h-4zM388.2 140.9h4v4h-4zM360.3 146.7h4v4h-4zM326.9 182.6h4v4h-4zM330.4 176.8h4v4h-4zM321.4 168.6h4v4h-4zM333.2 157.2h4v4h-4zM348.8 175.1h4v4h-4zM340.4 180h4v4h-4zM341.7 154.6h4v4h-4zM330.7 170.3h4v4h-4zM353 157.8h4v4h-4zM343.8 163.3h4v4h-4zM347.9 155.1h4v4h-4zM342.3 172.3h4v4h-4zM334.5 153.4h4v4h-4zM332 175.1h4v4h-4zM334.4 155.1h4v4h-4zM341.8 153.3h4v4h-4zM348.9 174.4h4v4h-4zM345.8 173.2h4v4h-4zM349.2 157.6h4v4h-4zM342.8 166.2h4v4h-4zM329.4 158.7h4v4h-4zM322 165.2h4v4h-4zM330.6 162.4h4v4h-4zM350 172.6h4v4h-4zM324.6 165.8h4v4h-4zM319.5 161.3h4v4h-4zM354 149.4h4v4h-4zM336.3 177.1h4v4h-4zM333.5 159.8h4v4h-4zM336.1 153.6h4v4h-4zM328.2 157.9h4v4h-4zM325 182.7h4v4h-4zM321.4 183.7h4v4h-4zM350.1 171.2h4v4h-4zM333 153.7h4v4h-4zM329.8 161.9h4v4h-4zM352.9 166.9h4v4h-4zM321.7 167.6h4v4h-4zM353.7 159.2h4v4h-4zM342 164h4v4h-4zM316.3 173.9h4v4h-4zM326.1 176.4h4v4h-4zM335.4 166.9h4v4h-4zM334.2 172.4h4v4h-4zM318.6 165.3h4v4h-4zM350.1 173.3h4v4h-4zM328.5 161.3h4v4h-4zM333.5 157.4h4v4h-4zM332.7 176.1h4v4h-4zM335.1 172.4h4v4h-4zM341.8 174.3h4v4h-4zM328.2 157h4v4h-4zM327.8 177.3h4v4h-4zM353 169.2h4v4h-4zM329.8 159.8h4v4h-4zM350 170.4h4v4h-4zM330.5 177h4v4h-4zM331.9 170.9h4v4h-4zM343.4 163.6h4v4h-4zM323.4 183.7h4v4h-4zM334.6 174h4v4h-4zM332.5 158.5h4v4h-4zM330.4 177.9h4v4h-4zM348.3 166.8h4v4h-4zM333.4 156.4h4v4h-4zM337.6 154.6h4v4h-4zM351.5 157.6h4v4h-4zM335.5 178.8h4v4h-4zM334.3 156.3h4v4h-4zM335.1 159.1h4v4h-4zM331.2 164.1h4v4h-4zM343 156.5h4v4h-4zM349.3 156.8h4v4h-4zM328.8 174.2h4v4h-4zM341.1 167.8h4v4h-4zM324.7 180.1h4v4h-4zM346.4 166h4v4h-4zM331 158.9h4v4h-4zM333.8 157.2h4v4h-4zM331.2 159h4v4h-4zM330.9 170.1h4v4h-4zM335.8 153.7h4v4h-4zM347.8 166h4v4h-4zM334.2 173.8h4v4h-4zM348.4 172.1h4v4h-4zM344.8 152.1h4v4h-4zM343.9 155.9h4v4h-4zM342.2 175.2h4v4h-4zM347 151h4v4h-4zM341.6 178.7h4v4h-4zM326.6 164h4v4h-4zM322.7 167h4v4h-4zM329.6 171.5h4v4h-4zM337.2 172.8h4v4h-4zM325.7 173.6h4v4h-4zM345.3 174.2h4v4h-4zM318.6 182.9h4v4h-4zM339 156.6h4v4h-4zM333.3 166.2h4v4h-4zM336.6 155.7h4v4h-4zM326.5 160.2h4v4h-4zM347.2 163.1h4v4h-4zM337.4 160h4v4h-4zM317.9 181.1h4v4h-4zM353.4 153.3h4v4h-4zM332.6 160.6h4v4h-4zM322.5 171.8h4v4h-4zM347.2 175.6h4v4h-4zM325 166.1h4v4h-4zM344.1 161.1h4v4h-4zM333.9 178.8h4v4h-4zM327.5 184.7h4v4h-4zM332.5 171.3h4v4h-4zM322 178.7h4v4h-4zM323.7 173.5h4v4h-4zM322.3 180.4h4v4h-4zM323.9 174.5h4v4h-4zM349.5 155.9h4v4h-4zM319.5 168.9h4v4h-4zM335.9 164.7h4v4h-4zM347.2 164.1h4v4h-4zM335.8 165h4v4h-4zM334.1 161.8h4v4h-4zM322.3 157.5h4v4h-4zM326.4 155.7h4v4h-4zM347.3 150.4h4v4h-4zM324.1 166.5h4v4h-4zM328.4 155.4h4v4h-4zM330.8 165.6h4v4h-4zM350.1 162.8h4v4h-4zM334 162.2h4v4h-4zM325.4 183.1h4v4h-4zM342.4 169h4v4h-4zM327 182.5h4v4h-4zM332.3 169.3h4v4h-4zM319.5 180.7h4v4h-4zM319.9 161.4h4v4h-4zM328.9 153.9h4v4h-4zM318.9 181.1h4v4h-4zM343.4 160.4h4v4h-4zM328.9 179h4v4h-4zM353.2 170.2h4v4h-4zM329.9 181.1h4v4h-4zM353.7 159.5h4v4h-4zM319.3 179.8h4v4h-4zM342.5 155h4v4h-4zM338.6 158h4v4h-4zM352.8 159.3h4v4h-4zM324.6 163.9h4v4h-4zM327.7 178h4v4h-4zM319.6 182.2h4v4h-4zM349.3 151.6h4v4h-4zM339.6 167.7h4v4h-4zM343.7 158h4v4h-4zM331.2 155.4h4v4h-4zM330.3 173h4v4h-4zM335.5 157h4v4h-4zM329.9 183.6h4v4h-4zM329.5 168.6h4v4h-4zM353.8 157.6h4v4h-4zM418.4 122.1h4v4h-4zM402.8 151.7h4v4h-4zM421 124.1h4v4h-4zM427.9 95.6h4v4h-4zM421.9 110.1h4v4h-4zM411.2 103.3h4v4h-4zM435.7 93h4v4h-4zM396.9 121.3h4v4h-4zM404.5 141.8h4v4h-4zM396.9 147h4v4h-4zM435.8 120.6h4v4h-4zM422 98.5h4v4h-4zM429.9 92.6h4v4h-4zM393.1 116.8h4v4h-4zM401.8 112.6h4v4h-4zM425.9 105.2h4v4h-4zM436.8 87.5h4v4h-4zM429.1 108.6h4v4h-4zM424.5 120.7h4v4h-4zM419.4 122.8h4v4h-4zM433.1 108.2h4v4h-4zM412.6 118.4h4v4h-4zM426.8 99.9h4v4h-4zM409.9 147.1h4v4h-4zM413.7 130.2h4v4h-4zM423.8 119.5h4v4h-4zM429.7 107.3h4v4h-4zM419.4 103.1h4v4h-4zM434.6 111.5h4v4h-4zM399.1 145.4h4v4h-4zM432.9 93.2h4v4h-4zM434.6 119.5h4v4h-4zM401.3 152.5h4v4h-4zM448.8 95.4h4v4h-4zM416 121.1h4v4h-4zM401.5 147.3h4v4h-4zM447.3 95.8h4v4h-4zM436.3 104.2h4v4h-4zM419.2 104.5h4v4h-4zM397.9 140.6h4v4h-4zM445.3 112.7h4v4h-4zM429.7 119.3h4v4h-4zM437.7 113.6h4v4h-4zM421.1 100.2h4v4h-4zM433 120h4v4h-4zM419.1 133.9h4v4h-4zM435.6 88.9h4v4h-4zM443 90.1h4v4h-4zM398.9 146.6h4v4h-4zM434.2 109h4v4h-4zM439.3 91.1h4v4h-4zM428.5 108.7h4v4h-4zM443.4 111.8h4v4h-4zM450.9 105.8h4v4h-4zM433 105.4h4v4h-4zM406.4 130.5h4v4h-4zM440.5 103.3h4v4h-4zM435.3 123h4v4h-4zM431.4 109.1h4v4h-4zM403.4 102.5h4v4h-4zM435.2 100.4h4v4h-4zM435.4 116.9h4v4h-4zM402.3 136.7h4v4h-4zM408 140.7h4v4h-4zM403.5 118.1h4v4h-4zM409.6 104.4h4v4h-4zM410.5 98.8h4v4h-4zM405.2 103.2h4v4h-4zM443 112.7h4v4h-4zM401.5 147.9h4v4h-4zM402.7 116.8h4v4h-4zM418.6 100.3h4v4h-4zM425.1 94.2h4v4h-4zM405.1 125.2h4v4h-4zM437.4 92.9h4v4h-4zM428.2 95.8h4v4h-4zM410.5 135.2h4v4h-4zM418.8 132.9h4v4h-4zM443.1 113.7h4v4h-4zM439.3 111.8h4v4h-4zM415.3 96.7h4v4h-4zM437.1 108.8h4v4h-4zM414.1 98.3h4v4h-4zM422.1 113.1h4v4h-4zM431.9 102.4h4v4h-4zM422 114.7h4v4h-4zM400.5 119.8h4v4h-4zM403.8 104.9h4v4h-4zM422.7 102.8h4v4h-4zM402.3 145.7h4v4h-4zM451.2 97.3h4v4h-4zM447.6 101.9h4v4h-4zM408.1 133.1h4v4h-4zM439 115.1h4v4h-4zM448.3 88.4h4v4h-4zM424 115.5h4v4h-4zM430.5 101.9h4v4h-4zM416.3 103.1h4v4h-4zM441.5 99.6h4v4h-4zM414.5 126.9h4v4h-4zM452 100.8h4v4h-4zM423.4 103.4h4v4h-4zM440.1 98.8h4v4h-4zM406.1 100.1h4v4h-4zM424.1 107.1h4v4h-4zM409.4 125.2h4v4h-4zM405.6 143.8h4v4h-4zM402.5 115h4v4h-4zM427.7 107.8h4v4h-4zM451.3 97.6h4v4h-4zM405.3 121.2h4v4h-4zM450.3 100.1h4v4h-4zM414.5 118.2h4v4h-4zM446 87.8h4v4h-4zM411.2 128.9h4v4h-4zM398.4 153.2h4v4h-4zM412.2 100.3h4v4h-4zM397.6 116.2h4v4h-4zM408.4 124.1h4v4h-4zM410.9 135.7h4v4h-4zM398.5 111.1h4v4h-4zM421.4 95.2h4v4h-4zM404.8 103.6h4v4h-4zM440 102.6h4v4h-4zM399.4 126.8h4v4h-4zM396.6 135.6h4v4h-4zM426.9 124.4h4v4h-4zM433.6 90.1h4v4h-4zM408.2 104.1h4v4h-4zM407.7 147.6h4v4h-4zM417.2 135.9h4v4h-4zM442.3 90.7h4v4h-4zM410.7 128.3h4v4h-4zM401.9 118.3h4v4h-4zM441.6 114.9h4v4h-4zM453.6 91.2h4v4h-4zM450 89.5h4v4h-4zM428.4 106.3h4v4h-4zM426.2 130h4v4h-4zM425 125.1h4v4h-4zM412 133.8h4v4h-4zM412.2 137.1h4v4h-4zM444.9 113h4v4h-4zM419.6 91.5h4v4h-4zM423.4 114h4v4h-4zM407.9 144h4v4h-4zM452 90h4v4h-4zM414.2 113h4v4h-4zM404.9 103.7h4v4h-4zM408.3 136.1h4v4h-4zM399.1 148.5h4v4h-4zM403 132.3h4v4h-4zM439.1 113.1h4v4h-4zM408.3 130.2h4v4h-4zM430.6 91.8h4v4h-4zM426.3 110.7h4v4h-4zM451.6 102.4h4v4h-4zM440.6 113.9h4v4h-4zM441.6 110h4v4h-4zM423.6 91.9h4v4h-4zM435.8 107.3h4v4h-4zM444.4 96.1h4v4h-4zM451.1 108.9h4v4h-4zM447.5 103.1h4v4h-4zM440.4 101.2h4v4h-4zM433.4 97.4h4v4h-4zM424.2 103h4v4h-4zM426.9 118.9h4v4h-4zM448.1 99.6h4v4h-4zM445 107.1h4v4h-4zM434.3 115.9h4v4h-4zM447.1 92.7h4v4h-4zM449.7 86.2h4v4h-4zM418.2 103.4h4v4h-4zM428.5 101.1h4v4h-4zM434.8 102.8h4v4h-4zM430.1 95.9h4v4h-4zM440.9 92.5h4v4h-4zM432 112.3h4v4h-4zM418.2 114.3h4v4h-4zM443.7 99.7h4v4h-4zM426.7 105.5h4v4h-4zM428.3 116.2h4v4h-4zM438.7 96.7h4v4h-4zM446.3 108.1h4v4h-4zM422.6 100.7h4v4h-4zM429.2 102h4v4h-4zM452.2 101.2h4v4h-4zM446.9 88.7h4v4h-4zM431.8 92h4v4h-4zM448.9 106h4v4h-4zM432.7 88.7h4v4h-4zM435 112.7h4v4h-4zM428.9 91.4h4v4h-4zM420 126h4v4h-4zM410 132.6h4v4h-4zM410.1 132.2h4v4h-4zM419.3 116.7h4v4h-4zM419 121h4v4h-4zM410.6 141.9h4v4h-4zM396.1 138.9h4v4h-4zM417.9 120.6h4v4h-4zM413.4 133.7h4v4h-4zM396.1 152.8h4v4h-4zM416.8 126.4h4v4h-4zM407.3 131.4h4v4h-4zM414.7 137.9h4v4h-4zM409.7 144.8h4v4h-4zM406.7 120.6h4v4h-4zM415.4 116.1h4v4h-4zM397.2 152.3h4v4h-4zM406.6 141.8h4v4h-4zM405.7 146.7h4v4h-4zM414.6 126h4v4h-4zM400.7 124.8h4v4h-4zM411 137.3h4v4h-4zM405.5 147.9h4v4h-4zM322.4 130.1h4v4h-4zM327.3 132.5h4v4h-4zM325.6 137.5h4v4h-4zM332.2 133.4h4v4h-4zM335.5 130.1h4v4h-4zM337.9 135h4v4h-4zM341.2 141.6h4v4h-4zM345.3 132.5h4v4h-4zM346.9 129.3h4v4h-4zM349.4 135h4v4h-4zM353.5 119.5h4v4h-4zM356.7 121.1h4v4h-4zM360 127.6h4v4h-4zM363.3 127.6h4v4h-4zM355.1 134.2h4v4h-4zM319.1 152.2h4v4h-4zM327.3 151.4h4v4h-4zM335.5 150.6h4v4h-4zM374.7 111.3h4v4h-4zM384.6 114.5h4v4h-4zM387.8 113.7h4v4h-4zM378 170.2h4v4h-4zM381.3 171h4v4h-4zM388.7 174.3h4v4h-4zM376.4 182.5h4v4h-4zM391.1 160.4h4v4h-4zM394.4 152.2h4v4h-4zM346.1 178.4h4v4h-4zM349.4 178.4h4v4h-4zM403.4 82.4h4v4h-4zM439.8 82.4h4v4h-4zM465.1 90.8h4v4h-4zM466.8 103.5h4v4h-4zM454.1 133.1h4v4h-4zM437.2 134.8h4v4h-4zM437.2 128.9h4v4h-4zM423.7 140.8h4v4h-4zM420.3 142.4h4v4h-4zM414.4 145.8h4v4h-4zM416.9 150.1h4v4h-4zM407.6 142.4h4v4h-4zM454.4 133.5h4v4h-4zM437.1 128.9h4v4h-4zM436.2 135.3h4v4h-4zM428.9 124.4h4v4h-4zM423.5 128h4v4h-4zM422.5 139.8h4v4h-4zM419.8 141.6h4v4h-4zM415.3 144.4h4v4h-4zM415.3 149.8h4v4h-4zM407.1 140.7h4v4h-4zM409.8 151.6h4v4h-4zM406.2 153.5h4v4h-4zM400.7 150.7h4v4h-4zM410.7 160.7h4v4h-4zM414.4 160.7h4v4h-4zM418 159.8h4v4h-4zM426.7 158.9h4v4h-4zM406.2 174.4h4v4h-4zM388.9 174.4h4v4h-4zM380.7 171.6h4v4h-4zM389.8 163.5h4v4h-4zM392.5 160.7h4v4h-4zM386.2 152.5h4v4h-4zM391.6 151.6h4v4h-4zM383.5 165.3h4v4h-4zM378 182.5h4v4h-4zM360 107.1h4v4h-4zM373.9 103.8h4v4h-4zM380.5 101.4h4v4h-4zM383.7 102.2h4v4h-4zM386.2 107.9h4v4h-4zM374.7 112h4v4h-4zM384.6 113.6h4v4h-4zM387.8 113.6h4v4h-4zM393.6 98.1h4v4h-4zM353.5 120.2h4v4h-4zM356.7 121.8h4v4h-4zM361.6 128.4h4v4h-4zM349.4 127.6h4v4h-4zM346.9 131.6h4v4h-4zM322.4 130h4v4h-4zM327.3 132.5h4v4h-4zM335.5 130h4v4h-4zM332.2 133.3h4v4h-4zM337.1 134.9h4v4h-4zM381.3 120.2h4v4h-4zM371.5 123.5h4v4h-4zM368.2 126.7h4v4h-4zM439.8 83h4v4h-4zM465.2 90.1h4v4h-4zM469.5 93.5h4v4h-4zM468.6 103.3h4v4h-4zM455.1 98.6h4v4h-4zM453.4 103.7h4v4h-4zM454.2 108.8h4v4h-4zM443.2 116.4h4v4h-4zM438.2 129.1h4v4h-4zM436.5 135h4v4h-4zM454.2 133.6h4v4h-4zM429.7 124h4v4h-4zM435.6 122.3h4v4h-4zM374 103.7h4v4h-4zM381.1 101.5h4v4h-4zM383.8 102.1h4v4h-4zM394.2 98.3h4v4h-4zM396.4 98.8h4v4h-4zM386 108.1h4v4h-4zM375.1 111.9h4v4h-4zM385.4 113.5h4v4h-4zM388.2 113.5h4v4h-4zM394.2 109.2h4v4h-4zM402.9 100.4h4v4h-4z" fill="#000"/>
<path d="M307.8 200.5v4M307.8 9.5v3.2M307.8 200.5h-4M545 200.5h-3.2M320.3 200.5v2M320.3 9.5v2M307.8 190.4h-2M545 190.4h-2M332.8 200.5v4M332.8 9.5v3.2M307.8 180.4h-4M545 180.4h-3.2M345.3 200.5v2M345.3 9.5v2M307.8 170.3h-2M545 170.3h-2M357.7 200.5v4M357.7 9.5v3.2M307.8 160.3h-4M545 160.3h-3.2M370.2 200.5v2M370.2 9.5v2M307.8 150.2h-2M545 150.2h-2M382.7 200.5v4M382.7 9.5v3.2M307.8 140.2h-4M545 140.2h-3.2M395.2 200.5v2M395.2 9.5v2M307.8 130.1h-2M545 130.1h-2M407.7 200.5v4M407.7 9.5v3.2M307.8 120.1h-4M545 120.1h-3.2M420.2 200.5v2M420.2 9.5v2M307.8 110h-2M545 110h-2M432.6 200.5v4M432.6 9.5v3.2M307.8 100h-4M545 100h-3.2M445.1 200.5v2M445.1 9.5v2M307.8 89.9h-2M545 89.9h-2M457.6 200.5v4M457.6 9.5v3.2M307.8 79.8h-4M545 79.8h-3.2M470.1 200.5v2M470.1 9.5v2M307.8 69.8h-2M545 69.8h-2M482.6 200.5v4M482.6 9.5v3.2M307.8 59.7h-4M545 59.7h-3.2M495.1 200.5v2M495.1 9.5v2M307.8 49.7h-2M545 49.7h-2M507.6 200.5v4M507.6 9.5v3.2M307.8 39.6h-4M545 39.6h-3.2M520 200.5v2M520 9.5v2M307.8 29.6h-2M545 29.6h-2M532.5 200.5v4M532.5 9.5v3.2M307.8 19.5h-4M545 19.5h-3.2M545 200.5v2M545 9.5v2M307.8 9.5h-2M545 9.5h-2" stroke="#6a6a6a" stroke-width="1.1" fill="none"/>
<rect x="307.8" y="9.5" width="237.2" height="191" fill="none" stroke="#6a6a6a" stroke-width="1.5"/>
<text x="307.8" y="213.8" class="tk" text-anchor="middle">0</text>
<text x="301.6" y="203.3" class="tk" text-anchor="end">0</text>
<text x="332.8" y="213.8" class="tk" text-anchor="middle">1</text>
<text x="301.6" y="183.2" class="tk" text-anchor="end">1</text>
<text x="357.7" y="213.8" class="tk" text-anchor="middle">2</text>
<text x="301.6" y="163.1" class="tk" text-anchor="end">2</text>
<text x="382.7" y="213.8" class="tk" text-anchor="middle">3</text>
<text x="301.6" y="143" class="tk" text-anchor="end">3</text>
<text x="407.7" y="213.8" class="tk" text-anchor="middle">4</text>
<text x="301.6" y="122.9" class="tk" text-anchor="end">4</text>
<text x="432.6" y="213.8" class="tk" text-anchor="middle">5</text>
<text x="301.6" y="102.8" class="tk" text-anchor="end">5</text>
<text x="457.6" y="213.8" class="tk" text-anchor="middle">6</text>
<text x="301.6" y="82.6" class="tk" text-anchor="end">6</text>
<text x="482.6" y="213.8" class="tk" text-anchor="middle">7</text>
<text x="301.6" y="62.5" class="tk" text-anchor="end">7</text>
<text x="507.6" y="213.8" class="tk" text-anchor="middle">8</text>
<text x="301.6" y="42.4" class="tk" text-anchor="end">8</text>
<text x="532.5" y="213.8" class="tk" text-anchor="middle">9</text>
<text x="301.6" y="22.3" class="tk" text-anchor="end">9</text>
<text x="426.4" y="228.7" class="at" text-anchor="middle">Calculated ET<tspan font-size="6.6" dy="3.2">0</tspan><tspan dy="-3.2"> (mm)</tspan></text>
<text transform="translate(290.8 105.8) rotate(-90)" class="at" text-anchor="middle">Estimated ET<tspan font-size="6.6" dy="3.2">0</tspan><tspan dy="-3.2"> (mm)</tspan></text>
<text x="314.3" y="35.7" class="an">Testing (ARIMA)</text>
<text x="314.3" y="55.6" class="an">y = 0.7437x + 0.6941</text>
<text x="314.3" y="65.1" class="an">R² = 0.748</text>
<line x1="27.9" y1="467" x2="265.1" y2="276" stroke="#ff2a2a" stroke-width="1.6" stroke-dasharray="1.6 4.2" />
<path d="M151.6 373.4h4v4h-4zM80.2 436.6h4v4h-4zM110.9 405.4h4v4h-4zM129.6 401.6h4v4h-4zM109.7 375.6h4v4h-4zM139 371h4v4h-4zM159.8 366.5h4v4h-4zM75.3 437.2h4v4h-4zM89.4 409.8h4v4h-4zM126 413.6h4v4h-4zM136.7 366.2h4v4h-4zM101.2 374.8h4v4h-4zM136 380.8h4v4h-4zM54.9 433.8h4v4h-4zM64 441.9h4v4h-4zM118.1 369.1h4v4h-4zM120.7 388.2h4v4h-4zM40.8 436.8h4v4h-4zM105.4 404.8h4v4h-4zM83.5 424.7h4v4h-4zM99.4 402.5h4v4h-4zM166.2 385h4v4h-4zM123.8 418.1h4v4h-4zM88.5 402.1h4v4h-4zM57.8 442.4h4v4h-4zM156.8 364.8h4v4h-4zM98 430.9h4v4h-4zM144.1 373.6h4v4h-4zM72.8 430h4v4h-4zM85.1 390.3h4v4h-4zM67.1 440.7h4v4h-4zM161.3 362.4h4v4h-4zM125.8 398.2h4v4h-4zM124.4 415.7h4v4h-4zM105.1 412.7h4v4h-4zM130.5 369.4h4v4h-4zM144.7 362.5h4v4h-4zM172.6 356h4v4h-4zM60 417.5h4v4h-4zM126.8 370.1h4v4h-4zM163.4 356.4h4v4h-4zM52 412.5h4v4h-4zM154.9 382.1h4v4h-4zM54.5 426.2h4v4h-4zM167.7 370.7h4v4h-4zM121.3 413.7h4v4h-4zM84.2 421.8h4v4h-4zM132.9 372.4h4v4h-4zM103.7 415.5h4v4h-4zM55.2 416h4v4h-4zM90.9 404h4v4h-4zM84.6 396.1h4v4h-4zM47.3 424.8h4v4h-4zM122.1 380.7h4v4h-4zM46.7 425.8h4v4h-4zM81.1 432.6h4v4h-4zM128.2 369.7h4v4h-4zM91.5 420.7h4v4h-4zM49.6 422.3h4v4h-4zM136.4 387.6h4v4h-4zM148.9 370.1h4v4h-4zM75.1 403.7h4v4h-4zM131.4 369.5h4v4h-4zM143.4 394.8h4v4h-4zM91.9 392.4h4v4h-4zM40.1 433.7h4v4h-4zM116.6 389.2h4v4h-4zM117.4 421.8h4v4h-4zM92.4 432.4h4v4h-4zM55.8 425.6h4v4h-4zM121.5 395h4v4h-4zM147.8 370.1h4v4h-4zM150.6 358.1h4v4h-4zM143.2 395.8h4v4h-4zM62.7 416.7h4v4h-4zM75 402.8h4v4h-4zM77.6 401.8h4v4h-4zM129.5 403.7h4v4h-4zM94.5 428.5h4v4h-4zM166.3 369h4v4h-4zM148.7 367.7h4v4h-4zM48.9 445.5h4v4h-4zM77.4 429.6h4v4h-4zM97.4 418.9h4v4h-4zM160.5 384.1h4v4h-4zM135.7 371.9h4v4h-4zM44.9 422.4h4v4h-4zM37.4 444.8h4v4h-4zM105.5 391.3h4v4h-4zM144.9 359.8h4v4h-4zM119.6 405.9h4v4h-4zM175.1 355.4h4v4h-4zM103.1 413h4v4h-4zM124.2 373.1h4v4h-4zM64.5 437.1h4v4h-4zM105.1 411.9h4v4h-4zM131.5 391.1h4v4h-4zM119 390.1h4v4h-4zM146.9 388.6h4v4h-4zM105.2 425.1h4v4h-4zM110.7 384.4h4v4h-4zM102.3 420.9h4v4h-4zM118.9 416.2h4v4h-4zM136.9 408.3h4v4h-4zM88.1 395.1h4v4h-4zM90.9 408.1h4v4h-4zM165.3 382h4v4h-4zM109.4 370.8h4v4h-4zM98.2 432.2h4v4h-4zM91.2 404.7h4v4h-4zM43.6 422.9h4v4h-4zM44.5 418h4v4h-4zM72.1 414.2h4v4h-4zM91.7 413.6h4v4h-4zM73.9 397.9h4v4h-4zM113.9 413h4v4h-4zM65.6 445.2h4v4h-4zM98.6 426.7h4v4h-4zM141.7 370.5h4v4h-4zM147.8 385h4v4h-4zM101.4 413.8h4v4h-4zM179.5 354h4v4h-4zM75.6 428.7h4v4h-4zM62.7 411.6h4v4h-4zM96.1 392.2h4v4h-4zM157.8 367.2h4v4h-4zM134.7 410h4v4h-4zM151.1 372.3h4v4h-4zM40 432.4h4v4h-4zM127 416.4h4v4h-4zM137 407h4v4h-4zM85.5 401.5h4v4h-4zM139.3 392.5h4v4h-4zM80.7 395.1h4v4h-4zM140.6 364.1h4v4h-4zM157.5 363h4v4h-4zM82.1 412.8h4v4h-4zM79.1 425.3h4v4h-4zM91.9 422.1h4v4h-4zM140 389.2h4v4h-4zM39.1 445.3h4v4h-4zM142.3 371.4h4v4h-4zM144.9 378.6h4v4h-4zM102.4 379.6h4v4h-4zM105.1 372.4h4v4h-4zM76.1 407.2h4v4h-4zM53.9 437.7h4v4h-4zM106.3 429.9h4v4h-4zM90.5 425.5h4v4h-4zM132.3 383h4v4h-4zM117.8 370.8h4v4h-4zM122.6 399.3h4v4h-4zM60 411.8h4v4h-4zM157.8 364.7h4v4h-4zM117 423h4v4h-4zM91 404.3h4v4h-4zM138.2 406h4v4h-4zM51.2 431.2h4v4h-4zM173.9 361.4h4v4h-4zM173.5 358.3h4v4h-4zM113.8 424.1h4v4h-4zM147.9 362.8h4v4h-4zM156.5 381.8h4v4h-4zM166 367.3h4v4h-4zM103.6 416h4v4h-4zM88.6 408.7h4v4h-4zM84.8 425.1h4v4h-4zM148.5 391.1h4v4h-4zM81.7 423.2h4v4h-4zM100.9 410.2h4v4h-4zM142.1 397.8h4v4h-4zM54.9 446.2h4v4h-4zM139.6 364.1h4v4h-4zM171.1 361.5h4v4h-4zM176 354.7h4v4h-4zM104 406.4h4v4h-4zM91.4 425.2h4v4h-4zM105.9 395.2h4v4h-4zM93.1 393.7h4v4h-4zM149.4 387.9h4v4h-4zM83.6 413.5h4v4h-4zM79.6 413.5h4v4h-4zM121.9 376.2h4v4h-4zM87.4 410.9h4v4h-4zM141.2 359.3h4v4h-4zM177.8 355.6h4v4h-4zM113.4 410.1h4v4h-4zM140.6 384.2h4v4h-4zM39.7 441.8h4v4h-4zM71.9 445.1h4v4h-4zM58.5 439.4h4v4h-4zM48.1 429h4v4h-4zM136.7 404.8h4v4h-4zM74.2 408.3h4v4h-4zM131.3 402h4v4h-4zM37.4 438.3h4v4h-4zM71.8 435.9h4v4h-4zM95.6 381.8h4v4h-4zM142.1 400.5h4v4h-4zM110.8 393.9h4v4h-4zM96.3 432.7h4v4h-4zM121.6 372h4v4h-4zM140 370.4h4v4h-4zM99.5 415.8h4v4h-4zM92.4 400.6h4v4h-4zM79.5 415.5h4v4h-4zM61.1 439.8h4v4h-4zM78.6 429.7h4v4h-4zM78.3 421.6h4v4h-4zM85.3 410.2h4v4h-4zM174.2 356.8h4v4h-4zM92 385.6h4v4h-4zM156.3 368.8h4v4h-4zM128.5 402.3h4v4h-4zM54.4 429.5h4v4h-4zM122.7 392.6h4v4h-4zM134.9 379.7h4v4h-4zM95.1 396.6h4v4h-4zM143 381.6h4v4h-4zM179.1 353h4v4h-4zM124.1 382.5h4v4h-4zM51.4 430.5h4v4h-4zM129.7 393.2h4v4h-4zM144.9 376.5h4v4h-4zM98.7 391.9h4v4h-4zM152.2 368.6h4v4h-4zM105.5 396.8h4v4h-4zM77.9 441h4v4h-4zM82.6 419.2h4v4h-4zM177.5 354.4h4v4h-4zM80.9 410.2h4v4h-4zM84.5 407h4v4h-4zM79.2 427.3h4v4h-4zM78.6 438.7h4v4h-4zM79.7 405h4v4h-4zM150.7 361h4v4h-4zM165.7 357.1h4v4h-4zM142.6 370.7h4v4h-4zM123.9 412.7h4v4h-4zM175 352.7h4v4h-4zM112 425.5h4v4h-4zM133.5 379.7h4v4h-4zM92.9 408.2h4v4h-4zM85.9 391.2h4v4h-4zM141.2 397.4h4v4h-4zM54.2 432.4h4v4h-4zM79.8 434h4v4h-4zM126.6 401.1h4v4h-4zM48.2 428.1h4v4h-4zM45 445.5h4v4h-4zM166.8 381h4v4h-4zM54.3 437.8h4v4h-4zM110 375.5h4v4h-4zM96.4 413.9h4v4h-4zM74.4 405.6h4v4h-4zM83.2 441.8h4v4h-4zM47.7 420.8h4v4h-4zM79.1 439.2h4v4h-4zM149.8 357.3h4v4h-4zM144.4 364.8h4v4h-4zM119.2 402.3h4v4h-4zM89.8 383.4h4v4h-4zM54.1 440.7h4v4h-4zM110.8 423.2h4v4h-4zM133.8 411.6h4v4h-4zM169.9 363.5h4v4h-4zM96.7 404.8h4v4h-4zM145.7 385.3h4v4h-4zM46.4 420.4h4v4h-4zM181.2 353.2h4v4h-4zM151.5 368.7h4v4h-4zM104.2 402.4h4v4h-4zM138.3 389.7h4v4h-4zM142.5 397h4v4h-4zM97.2 387.1h4v4h-4zM109.2 378.9h4v4h-4zM101.2 380.1h4v4h-4zM86.8 411.8h4v4h-4zM118.4 394.7h4v4h-4zM55.9 445.5h4v4h-4zM84.1 420.5h4v4h-4zM74.8 401h4v4h-4zM137.5 371.1h4v4h-4zM44.3 428.5h4v4h-4zM83.4 415.6h4v4h-4zM47.7 416h4v4h-4zM121.6 411.6h4v4h-4zM144.1 396.7h4v4h-4zM147.1 387h4v4h-4zM168.4 357.1h4v4h-4zM151 377h4v4h-4zM139.8 388.5h4v4h-4zM83.5 399.1h4v4h-4zM114.8 419.1h4v4h-4zM92.8 417.5h4v4h-4zM87 410.7h4v4h-4zM104.1 406.3h4v4h-4zM46.2 415.5h4v4h-4zM50.9 411.9h4v4h-4zM54.2 438.3h4v4h-4zM89.6 428.5h4v4h-4zM56.2 408h4v4h-4zM100.1 379.6h4v4h-4zM131.9 373h4v4h-4zM90.7 412.2h4v4h-4zM139.7 394.7h4v4h-4zM154.9 374.3h4v4h-4zM95.6 424.1h4v4h-4zM104.6 374.3h4v4h-4zM132.3 369.7h4v4h-4zM159.8 380.5h4v4h-4zM136.1 401.9h4v4h-4zM90.5 392.6h4v4h-4zM101.3 385.9h4v4h-4zM111.1 370.5h4v4h-4zM69.5 443h4v4h-4zM55.9 445.6h4v4h-4zM87.5 391.2h4v4h-4zM133.1 396.4h4v4h-4zM73.7 427.5h4v4h-4zM108.5 403.7h4v4h-4zM103.8 417.3h4v4h-4zM82.5 389.6h4v4h-4zM101.3 380.1h4v4h-4zM98.4 426.6h4v4h-4zM107 417.4h4v4h-4zM79.8 429.7h4v4h-4zM87.5 386.1h4v4h-4zM90.1 429h4v4h-4zM95.4 413.6h4v4h-4zM138.4 395.5h4v4h-4zM63.4 445.6h4v4h-4zM105.2 421.4h4v4h-4zM97.4 382.8h4v4h-4zM89.6 431.1h4v4h-4zM101 377.5h4v4h-4zM116.6 373.1h4v4h-4zM168.4 380.6h4v4h-4zM104.4 377.2h4v4h-4zM107.3 384.2h4v4h-4zM92.7 396.6h4v4h-4zM136.8 377.8h4v4h-4zM160.2 378.4h4v4h-4zM83.6 422h4v4h-4zM129.6 405.9h4v4h-4zM68.5 436.7h4v4h-4zM92.1 383.8h4v4h-4zM102.5 379.5h4v4h-4zM92.8 383.9h4v4h-4zM91.7 411.8h4v4h-4zM109.8 370.7h4v4h-4zM103.9 421h4v4h-4zM143.4 366.8h4v4h-4zM140.1 376.3h4v4h-4zM151.6 364.1h4v4h-4zM75.3 396.5h4v4h-4zM86.8 415.3h4v4h-4zM114.9 418.3h4v4h-4zM72.1 420.4h4v4h-4zM45.4 443.7h4v4h-4zM121.7 378h4v4h-4zM100.3 401.9h4v4h-4zM112.9 375.7h4v4h-4zM115.8 386.4h4v4h-4zM43.1 439.2h4v4h-4zM97.9 387.9h4v4h-4zM60.2 415.9h4v4h-4zM140.7 389.1h4v4h-4zM97.7 414.8h4v4h-4zM58.1 433.3h4v4h-4zM64.6 420.1h4v4h-4zM59.4 437.4h4v4h-4zM65.3 422.7h4v4h-4zM161.1 376.3h4v4h-4zM110.1 398.2h4v4h-4zM109.8 399h4v4h-4zM103.4 391h4v4h-4zM152.7 362.6h4v4h-4zM91.2 400.4h4v4h-4zM102.9 392h4v4h-4zM71 444.2h4v4h-4zM134.5 408.9h4v4h-4zM77 442.8h4v4h-4zM96.6 409.6h4v4h-4zM48.8 438.3h4v4h-4zM179.4 352.3h4v4h-4zM46.5 439.2h4v4h-4zM138.4 387.5h4v4h-4zM84.1 434h4v4h-4zM87.9 439.2h4v4h-4zM48.1 436h4v4h-4zM135 374.1h4v4h-4zM120.3 381.5h4v4h-4zM181.1 352.2h4v4h-4zM79.4 431.5h4v4h-4zM49.5 441.9h4v4h-4zM160.5 365.4h4v4h-4zM124.1 405.6h4v4h-4zM139.3 381.4h4v4h-4zM89.2 419h4v4h-4zM108.7 378.8h4v4h-4zM86.4 407.9h4v4h-4zM156.6 362.6h4v4h-4zM76.9 402.3h4v4h-4zM101 421.6h4v4h-4zM79 432.6h4v4h-4zM85.1 396.6h4v4h-4zM92.9 424.5h4v4h-4zM131.2 383.8h4v4h-4zM115 410.5h4v4h-4zM40.7 443.5h4v4h-4zM88.4 391.5h4v4h-4zM51.4 426.1h4v4h-4zM99.2 406.8h4v4h-4zM124.7 392.7h4v4h-4zM75.3 402.1h4v4h-4zM138.3 360h4v4h-4zM71.9 425.6h4v4h-4zM172.7 360.2h4v4h-4zM114.3 423.9h4v4h-4zM125.6 389.3h4v4h-4zM121 405.5h4v4h-4zM45 426.5h4v4h-4zM104.7 424.7h4v4h-4zM79.6 397h4v4h-4zM159 354.9h4v4h-4zM78.8 399.1h4v4h-4zM163 377.8h4v4h-4zM158.7 375.3h4v4h-4zM80.6 405.4h4v4h-4zM167.2 375.9h4v4h-4zM93.1 427.1h4v4h-4zM172.7 363.9h4v4h-4zM60.1 425.9h4v4h-4zM81 408.5h4v4h-4zM90.3 394.9h4v4h-4zM105.7 419.3h4v4h-4zM155.1 379.2h4v4h-4zM125 400.9h4v4h-4zM153.4 381.9h4v4h-4zM159.9 353.3h4v4h-4zM73.8 443.6h4v4h-4zM121.4 420h4v4h-4zM151.3 388.8h4v4h-4zM68.2 434.5h4v4h-4zM119.8 402.3h4v4h-4zM65.3 427.7h4v4h-4zM41.8 439.2h4v4h-4zM124.4 404.8h4v4h-4zM136.4 366.9h4v4h-4zM125.9 386.2h4v4h-4zM107.2 377.1h4v4h-4zM150.1 363.4h4v4h-4zM37.2 448.6h4v4h-4zM82.1 401.2h4v4h-4zM95.5 428.4h4v4h-4zM41 433.1h4v4h-4zM82.2 435.4h4v4h-4zM52.4 414.4h4v4h-4zM126.2 370.8h4v4h-4zM140 362.8h4v4h-4zM75.6 395.1h4v4h-4zM90.8 389.5h4v4h-4zM41.2 440h4v4h-4zM132.9 379.6h4v4h-4zM38.5 433.8h4v4h-4zM152 356h4v4h-4zM138.6 384.2h4v4h-4zM130.6 400.4h4v4h-4zM121.6 403.2h4v4h-4zM145.5 383.7h4v4h-4zM109.7 397.3h4v4h-4zM134.5 372.6h4v4h-4zM62 435h4v4h-4zM111.6 413h4v4h-4zM129.2 398.7h4v4h-4zM139.6 382.5h4v4h-4zM121.6 376.8h4v4h-4zM148.3 388h4v4h-4zM86.1 433.3h4v4h-4zM145.2 363.7h4v4h-4zM57.5 445.1h4v4h-4zM48.3 412.8h4v4h-4zM79.7 443h4v4h-4zM115.7 400.9h4v4h-4zM90.2 435.8h4v4h-4zM170.4 367.1h4v4h-4zM151.1 378.3h4v4h-4zM121.2 378.7h4v4h-4zM83.9 426.9h4v4h-4zM79.3 439.8h4v4h-4zM60.6 425.9h4v4h-4zM44.6 439.2h4v4h-4zM68.9 404.5h4v4h-4zM139.7 398.5h4v4h-4zM73.4 444.3h4v4h-4zM124.5 373h4v4h-4zM121.1 418h4v4h-4zM76.4 443.4h4v4h-4zM149.9 357.9h4v4h-4zM162.8 359.5h4v4h-4zM85.7 434.9h4v4h-4zM184 353.8h4v4h-4zM147.5 384.7h4v4h-4zM156.4 360.8h4v4h-4zM70.4 445.3h4v4h-4zM137.5 384.3h4v4h-4zM145.4 379.9h4v4h-4zM98.8 413.5h4v4h-4zM50.7 423.5h4v4h-4zM158.4 377.1h4v4h-4zM80.2 415h4v4h-4zM57.8 411.6h4v4h-4zM142.6 384.9h4v4h-4zM61.7 436.6h4v4h-4zM149.3 373.3h4v4h-4zM45.6 420.3h4v4h-4zM91.6 421.6h4v4h-4zM101.6 427.1h4v4h-4zM79.5 415.2h4v4h-4zM93.7 396.8h4v4h-4zM104.5 378.6h4v4h-4zM90.2 436.7h4v4h-4zM92.4 395.1h4v4h-4zM120.2 373.1h4v4h-4zM74.2 401.7h4v4h-4zM50.2 427.5h4v4h-4zM131.5 364.9h4v4h-4zM96.6 406.4h4v4h-4zM153 363.3h4v4h-4zM137 367.1h4v4h-4zM106 419.7h4v4h-4zM67.7 432.6h4v4h-4zM120.5 416.6h4v4h-4zM59.3 424h4v4h-4zM152.5 384.4h4v4h-4zM112.2 370.5h4v4h-4zM126.3 390.2h4v4h-4zM143.5 376h4v4h-4zM44.7 437.2h4v4h-4zM126.1 392.3h4v4h-4zM88.5 399.2h4v4h-4zM94.2 379.2h4v4h-4zM127.4 416.2h4v4h-4zM127.3 376.5h4v4h-4zM91.6 433.7h4v4h-4zM36.7 445.1h4v4h-4zM101.8 416.8h4v4h-4zM67.5 421.1h4v4h-4zM74.5 420.7h4v4h-4zM52 420.8h4v4h-4zM172.2 357.3h4v4h-4zM129.6 393.3h4v4h-4zM141 375.3h4v4h-4zM116.2 376.8h4v4h-4zM160.3 372.2h4v4h-4zM113.1 408.6h4v4h-4zM128.5 377.3h4v4h-4zM157.8 371.1h4v4h-4zM129.8 382.1h4v4h-4zM61.6 435h4v4h-4zM61.9 410.9h4v4h-4zM78.3 401.5h4v4h-4zM104.1 406.4h4v4h-4zM97.5 431.1h4v4h-4zM76 415.5h4v4h-4zM92 392.7h4v4h-4zM136.1 383.1h4v4h-4zM44.1 438.7h4v4h-4zM96.9 401h4v4h-4zM113 397h4v4h-4zM168.2 356.4h4v4h-4zM107.2 411.3h4v4h-4zM109 373.2h4v4h-4zM83.4 394.3h4v4h-4zM102.3 404.9h4v4h-4zM106.7 420.4h4v4h-4zM40.8 437.4h4v4h-4zM37.6 445.6h4v4h-4zM157.7 376.2h4v4h-4zM86.5 408.5h4v4h-4zM81.6 420.2h4v4h-4zM134.7 405.3h4v4h-4zM146.5 359.4h4v4h-4zM66.9 423.7h4v4h-4zM102 378.1h4v4h-4zM117.8 420.7h4v4h-4zM161.6 360.3h4v4h-4zM106.3 410.5h4v4h-4zM43.8 428.4h4v4h-4zM91 397.2h4v4h-4zM59.4 432.1h4v4h-4zM175.1 358.7h4v4h-4zM137.3 381.1h4v4h-4zM133.4 412.8h4v4h-4zM131.4 406.2h4v4h-4zM108.6 417.8h4v4h-4zM108.9 422.2h4v4h-4zM78.8 435.6h4v4h-4zM128.6 391.4h4v4h-4zM101.4 431.4h4v4h-4zM57.7 408.7h4v4h-4zM112.4 390.1h4v4h-4zM96.2 377.7h4v4h-4zM102.1 420.9h4v4h-4zM86.1 437.5h4v4h-4zM92.9 415.9h4v4h-4zM102.1 413h4v4h-4zM101.4 388.5h4v4h-4zM119.5 412h4v4h-4zM122.5 417.4h4v4h-4zM152.5 380.2h4v4h-4zM69.7 435.4h4v4h-4zM126.9 370.9h4v4h-4zM72.4 412.2h4v4h-4zM109.4 377.7h4v4h-4zM119.1 413.2h4v4h-4zM81.3 437.1h4v4h-4zM64.3 419.2h4v4h-4zM156.9 357.1h4v4h-4zM67.7 440.7h4v4h-4zM79.1 428.3h4v4h-4zM137.3 391h4v4h-4zM89.9 426.3h4v4h-4zM49.5 431.1h4v4h-4zM135.9 393.9h4v4h-4zM141.8 390.2h4v4h-4zM101 431.9h4v4h-4zM123.6 408.2h4v4h-4zM125.4 396.8h4v4h-4zM59.7 430.8h4v4h-4zM41.3 442.2h4v4h-4zM133 405.7h4v4h-4zM97.1 431.9h4v4h-4zM113.3 380.4h4v4h-4zM95.4 403.8h4v4h-4zM41.7 447.3h4v4h-4zM136.9 361.1h4v4h-4zM89.8 438.7h4v4h-4zM142.5 400h4v4h-4zM157.5 356h4v4h-4zM48.5 437.9h4v4h-4zM62.7 416.6h4v4h-4zM133.3 382.7h4v4h-4zM67.3 440.6h4v4h-4zM84.2 408.4h4v4h-4zM141 399.2h4v4h-4zM115.1 412.7h4v4h-4zM65.5 430.8h4v4h-4zM124.5 408.3h4v4h-4zM166.9 363.2h4v4h-4zM93.7 401.6h4v4h-4zM101.7 397.3h4v4h-4zM98.8 419.9h4v4h-4zM102.3 399.6h4v4h-4zM152.9 362.1h4v4h-4zM94.7 427.5h4v4h-4zM85.9 432.9h4v4h-4zM93 426.1h4v4h-4zM114.2 417h4v4h-4zM76 409.4h4v4h-4zM118.1 385h4v4h-4zM51.9 420.9h4v4h-4zM55.7 440.2h4v4h-4zM154.8 376.2h4v4h-4zM107.1 412.9h4v4h-4zM160.8 367.5h4v4h-4zM108.8 394.1h4v4h-4zM88.1 422.3h4v4h-4zM70.2 425.3h4v4h-4zM107.9 373.1h4v4h-4zM62.9 442.4h4v4h-4zM49.9 438.4h4v4h-4zM92.7 418.9h4v4h-4zM141.1 393.8h4v4h-4zM145.1 396.4h4v4h-4zM116.5 381.4h4v4h-4zM50.5 412.9h4v4h-4zM87.5 411h4v4h-4zM172.6 354.9h4v4h-4zM68.8 440.6h4v4h-4zM131.6 394.2h4v4h-4zM47.9 436.9h4v4h-4zM90.4 437.5h4v4h-4zM126.6 412h4v4h-4zM98.8 417h4v4h-4zM166.5 371.3h4v4h-4zM93.1 424h4v4h-4zM71.3 437.9h4v4h-4zM167.6 382.8h4v4h-4zM162.3 373.5h4v4h-4zM67.7 424.8h4v4h-4zM159.3 373.4h4v4h-4zM110.6 412.7h4v4h-4zM63 442.7h4v4h-4zM91.9 390.8h4v4h-4zM80.5 430h4v4h-4zM138.1 377.7h4v4h-4zM150.1 367.7h4v4h-4zM59.9 426.4h4v4h-4zM158.8 355.6h4v4h-4zM120.1 392.4h4v4h-4zM143.7 372.1h4v4h-4zM118.4 406.2h4v4h-4zM70.7 417.4h4v4h-4zM111.7 408.7h4v4h-4zM148.6 380h4v4h-4zM131.3 393h4v4h-4zM101.3 383.3h4v4h-4zM73.4 438.5h4v4h-4zM61.9 445.8h4v4h-4zM105.1 430.6h4v4h-4zM159.9 371.1h4v4h-4zM171.2 354.6h4v4h-4zM80.4 392.7h4v4h-4zM107 397.1h4v4h-4zM133.3 370.8h4v4h-4zM95.3 421.4h4v4h-4zM145.3 389.2h4v4h-4zM72.3 404.1h4v4h-4zM79.5 431.5h4v4h-4zM123.8 381.4h4v4h-4zM83.3 395.2h4v4h-4zM159.3 360.9h4v4h-4zM108 422.5h4v4h-4zM161.8 360.9h4v4h-4zM146.4 384h4v4h-4zM55.4 425.2h4v4h-4zM132 382.9h4v4h-4zM61.3 424h4v4h-4zM158.3 371.6h4v4h-4zM129.1 387.1h4v4h-4zM63.2 428.9h4v4h-4zM70 423.7h4v4h-4zM85.1 415h4v4h-4zM138.6 369.3h4v4h-4zM49.8 421h4v4h-4zM112.7 412.8h4v4h-4zM89.6 434.4h4v4h-4zM90.6 439.5h4v4h-4zM91.8 422.9h4v4h-4zM104.8 428.2h4v4h-4zM112.8 401.5h4v4h-4zM113.8 400.6h4v4h-4zM164.8 369.2h4v4h-4zM163.2 377.9h4v4h-4zM116.1 420.4h4v4h-4zM56.9 443.7h4v4h-4zM156.7 377h4v4h-4zM132 403.7h4v4h-4zM150.6 388.9h4v4h-4zM72.4 440.4h4v4h-4zM98.2 399h4v4h-4zM111.5 426.2h4v4h-4zM142.9 367.9h4v4h-4zM42 441.3h4v4h-4zM94.2 420.1h4v4h-4zM89.3 430.1h4v4h-4zM172.2 364.9h4v4h-4zM138.5 388.1h4v4h-4zM118.7 410.9h4v4h-4zM88.1 432.5h4v4h-4zM118.8 409.2h4v4h-4zM72.6 427.2h4v4h-4zM57.5 410.2h4v4h-4zM150.9 363.7h4v4h-4zM115.5 404.1h4v4h-4zM86.7 411.8h4v4h-4zM165.2 374.8h4v4h-4zM96.8 424h4v4h-4zM162.5 370.7h4v4h-4zM133.9 374.8h4v4h-4zM164.4 380.8h4v4h-4zM74.7 401.2h4v4h-4zM124.2 378h4v4h-4zM37.1 443h4v4h-4zM95.4 403.5h4v4h-4zM153.1 378.7h4v4h-4zM85 399.3h4v4h-4zM76.2 422.3h4v4h-4zM98.3 376.6h4v4h-4zM161.2 386h4v4h-4zM98.3 397.2h4v4h-4zM159.8 372.8h4v4h-4zM153.6 382h4v4h-4zM140.4 363.7h4v4h-4zM126 366.7h4v4h-4zM48.5 414.6h4v4h-4zM154.1 357.6h4v4h-4zM116.5 410.4h4v4h-4zM96.8 435.8h4v4h-4zM93.8 381h4v4h-4zM166.9 368h4v4h-4zM128.7 383.3h4v4h-4zM119.1 417.2h4v4h-4zM120.7 388.9h4v4h-4zM52.2 413.5h4v4h-4zM159.3 358.9h4v4h-4zM127.3 377.4h4v4h-4zM47.4 427.7h4v4h-4zM80.3 392.3h4v4h-4zM122 380.6h4v4h-4zM87.1 402.8h4v4h-4zM128 384.8h4v4h-4zM101.3 412.6h4v4h-4zM103.8 379.1h4v4h-4zM96.8 389h4v4h-4zM79 410h4v4h-4zM112 391.6h4v4h-4zM132.6 384.7h4v4h-4zM94.7 433.6h4v4h-4zM167 362.8h4v4h-4zM110.7 426.3h4v4h-4zM100 432.7h4v4h-4zM112.8 408.9h4v4h-4zM82.1 395.9h4v4h-4zM108.1 418h4v4h-4zM50 440.4h4v4h-4zM97 433.9h4v4h-4zM139.4 360.1h4v4h-4zM89.4 383.8h4v4h-4zM103.2 424.9h4v4h-4zM47.7 441.7h4v4h-4zM106.7 387.1h4v4h-4zM139.9 378.4h4v4h-4zM142.1 392h4v4h-4zM65.6 435.4h4v4h-4zM121.7 392.6h4v4h-4zM109.4 410.4h4v4h-4zM125.2 389.2h4v4h-4zM41.6 424.8h4v4h-4zM43.6 430.1h4v4h-4zM123.3 378.3h4v4h-4zM126.1 402.5h4v4h-4zM69 440.3h4v4h-4zM85.9 415.4h4v4h-4zM76.8 402.5h4v4h-4zM133.6 400h4v4h-4zM73.8 436.6h4v4h-4zM83.7 419.4h4v4h-4zM64.5 422.1h4v4h-4zM72.9 430.5h4v4h-4zM80.4 421.2h4v4h-4zM62.5 414.5h4v4h-4zM103.3 382.5h4v4h-4zM121.2 401.5h4v4h-4zM103.4 429.9h4v4h-4zM72.9 439.6h4v4h-4zM120.3 374.4h4v4h-4zM61.9 414.6h4v4h-4zM89.9 390.9h4v4h-4zM115.5 401.9h4v4h-4zM101.9 430.4h4v4h-4zM40.7 433.4h4v4h-4zM53.3 442.4h4v4h-4zM58.1 443.4h4v4h-4zM108.7 412h4v4h-4zM104.1 423.1h4v4h-4zM112.6 375.4h4v4h-4zM99.3 424.9h4v4h-4zM79.3 397.6h4v4h-4zM80.7 411.8h4v4h-4zM78.3 438h4v4h-4zM116.8 407.6h4v4h-4zM62.9 433.1h4v4h-4zM47 415.1h4v4h-4zM56 421.4h4v4h-4zM123.3 398.7h4v4h-4zM89.7 424.4h4v4h-4zM94.9 404.5h4v4h-4zM100.7 424.5h4v4h-4zM117.5 412.4h4v4h-4zM103.1 382.8h4v4h-4zM51.6 432.6h4v4h-4zM126.1 378.9h4v4h-4zM104.9 387.1h4v4h-4zM88.3 411h4v4h-4zM131.1 382h4v4h-4zM109.2 403.3h4v4h-4zM98.1 428.3h4v4h-4zM65.5 433.8h4v4h-4zM112.8 414h4v4h-4zM94.1 398.1h4v4h-4zM59.8 412.2h4v4h-4zM94.5 398.8h4v4h-4zM112 412.3h4v4h-4zM102.2 384.7h4v4h-4zM99.6 429.2h4v4h-4zM71.2 430.3h4v4h-4zM110.2 411.7h4v4h-4zM102.1 427.5h4v4h-4zM106.5 415.9h4v4h-4zM105.2 391.5h4v4h-4zM39.7 438.9h4v4h-4zM101.2 410.4h4v4h-4zM112.5 404.4h4v4h-4zM122.3 407.7h4v4h-4zM64.9 441.9h4v4h-4zM100.4 397.4h4v4h-4zM66.9 410h4v4h-4zM93.1 412.6h4v4h-4zM68.8 406.2h4v4h-4zM57.3 413.1h4v4h-4zM123.9 371.2h4v4h-4zM85 418.1h4v4h-4zM106.2 414.8h4v4h-4zM70.7 416.9h4v4h-4zM121.5 408.7h4v4h-4zM74.9 416.9h4v4h-4zM128 377.1h4v4h-4zM111.5 402.1h4v4h-4zM115.7 409.4h4v4h-4zM119.5 405.1h4v4h-4zM60.5 429.4h4v4h-4zM120.2 407.7h4v4h-4zM131.1 382.8h4v4h-4zM132.1 395.3h4v4h-4zM104.3 390.4h4v4h-4zM61.6 412.1h4v4h-4zM61.1 438.3h4v4h-4zM83.6 436.6h4v4h-4zM118.7 418.6h4v4h-4zM69.7 413.9h4v4h-4zM99.5 424.1h4v4h-4zM105.2 421.3h4v4h-4zM96.2 421h4v4h-4zM53.5 419.1h4v4h-4zM130.4 399.8h4v4h-4zM105.8 420.9h4v4h-4zM92.2 392.9h4v4h-4zM114.7 398.5h4v4h-4zM69.7 411.3h4v4h-4zM118.2 401.2h4v4h-4zM99.7 412.4h4v4h-4zM55.9 422.2h4v4h-4zM116.8 393.7h4v4h-4zM66.1 415.4h4v4h-4zM135.5 389.9h4v4h-4zM112 422.1h4v4h-4zM112 398.8h4v4h-4zM88.3 423.3h4v4h-4zM89.6 393.6h4v4h-4zM55.1 442h4v4h-4zM113.6 390.1h4v4h-4zM87.7 405h4v4h-4zM63.4 416.8h4v4h-4zM57.5 419.5h4v4h-4zM38.2 446.7h4v4h-4zM90.6 414h4v4h-4zM112.2 399.1h4v4h-4zM111.1 416.5h4v4h-4zM119.4 380h4v4h-4zM98.9 388.3h4v4h-4zM86 403.1h4v4h-4zM95.1 413.2h4v4h-4zM71.2 431.3h4v4h-4zM51.6 429.8h4v4h-4zM94.4 388.1h4v4h-4zM112.5 376.2h4v4h-4zM87 418.1h4v4h-4zM67.4 413.9h4v4h-4zM109.3 391.5h4v4h-4zM84.1 432.4h4v4h-4zM69.6 430.6h4v4h-4zM80.6 421h4v4h-4zM78.4 413.2h4v4h-4zM50.7 445.2h4v4h-4zM106.7 398.4h4v4h-4zM70.9 438.6h4v4h-4zM54.2 412.9h4v4h-4zM108.3 417.9h4v4h-4zM133 384.1h4v4h-4zM102.8 427.9h4v4h-4zM135.6 386.8h4v4h-4zM130.2 373.6h4v4h-4zM121 410.3h4v4h-4zM102.5 412.4h4v4h-4zM121.3 402.7h4v4h-4zM81 432.5h4v4h-4zM114.4 403.2h4v4h-4zM107.7 385.3h4v4h-4zM112.8 388.6h4v4h-4zM103 395.4h4v4h-4zM119.9 406.3h4v4h-4zM70 404.1h4v4h-4zM119.2 413.5h4v4h-4zM51.9 435.7h4v4h-4zM104 409.5h4v4h-4zM131.4 377.7h4v4h-4zM66.9 408.1h4v4h-4zM49.9 424h4v4h-4zM106.1 396.2h4v4h-4zM83.2 404h4v4h-4zM98.4 391.8h4v4h-4zM97.2 422h4v4h-4zM49.6 429.8h4v4h-4zM66.3 408.5h4v4h-4zM41.4 429.5h4v4h-4zM106.3 388.4h4v4h-4zM107 397.7h4v4h-4zM68.2 438.6h4v4h-4zM114.7 383.3h4v4h-4zM114.3 374h4v4h-4zM63.4 426.6h4v4h-4zM43.6 426.9h4v4h-4zM112 418.3h4v4h-4zM85.4 404.5h4v4h-4zM105.1 386.1h4v4h-4zM115.9 404.1h4v4h-4zM80.1 422.2h4v4h-4zM121.9 405.9h4v4h-4zM92.3 412.4h4v4h-4zM132.1 383.3h4v4h-4zM105.2 403.4h4v4h-4zM95 401.8h4v4h-4zM76.8 438.9h4v4h-4zM75.7 437.2h4v4h-4zM55.4 422.1h4v4h-4zM118.2 397.7h4v4h-4zM125.3 404.7h4v4h-4zM136.9 393h4v4h-4zM66.9 422h4v4h-4zM89 418.6h4v4h-4zM67.2 433.8h4v4h-4zM103 385.6h4v4h-4zM107.7 381.1h4v4h-4zM94.2 406.7h4v4h-4zM87.3 413.4h4v4h-4zM68.2 440h4v4h-4zM121 408.3h4v4h-4zM53.5 440.7h4v4h-4zM78.2 422.5h4v4h-4zM112.3 382.8h4v4h-4zM36.9 446.3h4v4h-4zM103.6 397.7h4v4h-4zM107.1 386.1h4v4h-4zM44.6 436.3h4v4h-4zM126.5 395h4v4h-4zM74.8 399.7h4v4h-4zM63.5 443h4v4h-4zM89.8 424.5h4v4h-4zM86.2 417.9h4v4h-4zM111.1 398.1h4v4h-4zM70.5 423.5h4v4h-4zM70.6 429h4v4h-4zM110 376.7h4v4h-4zM117.8 374.6h4v4h-4zM130.5 388.4h4v4h-4zM117 397.2h4v4h-4zM48 418.1h4v4h-4zM65.4 428.8h4v4h-4zM102.5 398.8h4v4h-4zM137.8 392.6h4v4h-4zM59.5 438.2h4v4h-4zM124.9 380.2h4v4h-4zM69.8 408.3h4v4h-4zM62.6 422.5h4v4h-4zM78.4 416.2h4v4h-4zM89.7 430.4h4v4h-4zM90.6 398.1h4v4h-4zM88.1 409.1h4v4h-4zM94 424.7h4v4h-4zM79 427.4h4v4h-4zM86.8 396.9h4v4h-4zM60 431.6h4v4h-4zM57.7 424.2h4v4h-4zM83 436.3h4v4h-4zM106.2 410.2h4v4h-4zM76 412.4h4v4h-4zM50.2 422.1h4v4h-4zM91.2 427.2h4v4h-4zM117.2 384.7h4v4h-4zM133.4 385.7h4v4h-4zM47.6 420.6h4v4h-4zM73.1 429.9h4v4h-4zM48.6 420.8h4v4h-4zM68.2 441.3h4v4h-4zM63 410.7h4v4h-4zM111.4 409.2h4v4h-4zM96.2 415.3h4v4h-4zM107.2 408.8h4v4h-4zM108.8 403h4v4h-4zM107.7 420.1h4v4h-4zM96.1 416.7h4v4h-4zM133.9 383.9h4v4h-4zM95.3 415.6h4v4h-4zM74.6 401.8h4v4h-4zM54.1 415.2h4v4h-4zM63.9 410.8h4v4h-4zM66.5 410.5h4v4h-4zM125.2 370.1h4v4h-4zM119.9 386.9h4v4h-4zM123.1 375.8h4v4h-4zM115 409.8h4v4h-4zM53.3 424.7h4v4h-4zM119.3 399.7h4v4h-4zM116.8 396.3h4v4h-4zM54.3 439.7h4v4h-4zM38.8 431.2h4v4h-4zM133.9 373.8h4v4h-4zM64.9 419.6h4v4h-4zM106.7 427.8h4v4h-4zM92.3 392.4h4v4h-4zM97.4 392h4v4h-4zM118.1 399h4v4h-4zM134 374.6h4v4h-4zM76.4 428.5h4v4h-4zM82 396.1h4v4h-4zM67.2 414.4h4v4h-4zM52.3 441.3h4v4h-4zM86.6 423.7h4v4h-4zM108.5 398.4h4v4h-4zM119.9 404.4h4v4h-4zM125.9 369.6h4v4h-4zM100 408.3h4v4h-4zM71.9 440.1h4v4h-4zM115.5 383.3h4v4h-4zM53.5 442.2h4v4h-4zM76.2 406h4v4h-4zM94.2 432.6h4v4h-4zM131.6 370.6h4v4h-4zM135.3 384.4h4v4h-4zM72.1 405.4h4v4h-4zM120.7 389.6h4v4h-4zM89.8 409.4h4v4h-4zM73.9 405.5h4v4h-4zM53.9 443.5h4v4h-4zM119.9 393.7h4v4h-4zM105.3 378.6h4v4h-4zM56.2 425.3h4v4h-4zM67.3 438.8h4v4h-4zM65.7 425.4h4v4h-4zM39.6 436.5h4v4h-4zM118.5 415.4h4v4h-4zM118.3 404.9h4v4h-4zM77.1 423.9h4v4h-4zM74.3 428.1h4v4h-4zM122 396.3h4v4h-4zM73.1 434.9h4v4h-4zM53.6 423.9h4v4h-4zM89 421h4v4h-4zM106.8 421.2h4v4h-4zM87 420.6h4v4h-4zM95.6 423.7h4v4h-4zM53.4 433.6h4v4h-4zM118.7 381.7h4v4h-4zM117.9 398h4v4h-4zM95.9 416.7h4v4h-4zM117 392.7h4v4h-4zM62.2 418.9h4v4h-4zM54 440.7h4v4h-4zM101.8 430.9h4v4h-4zM77.7 430.8h4v4h-4zM86.8 434.5h4v4h-4zM38.8 441h4v4h-4zM104.4 383.5h4v4h-4zM101.9 408.7h4v4h-4zM97.2 417.1h4v4h-4zM67.2 427.5h4v4h-4zM129.4 389.4h4v4h-4zM119.6 416.5h4v4h-4zM101.5 393.5h4v4h-4zM69.7 404.3h4v4h-4zM54.7 414.2h4v4h-4zM52.6 424.2h4v4h-4zM119.6 402.5h4v4h-4zM117.8 393h4v4h-4zM70.7 412.3h4v4h-4zM42.2 446.1h4v4h-4zM48.7 441h4v4h-4zM102.9 428.9h4v4h-4zM56.6 439.3h4v4h-4zM90.2 400.5h4v4h-4zM78.1 425.6h4v4h-4zM107 407h4v4h-4zM84.5 411.8h4v4h-4zM70.7 427.4h4v4h-4zM78 407.9h4v4h-4zM43 425.1h4v4h-4zM103 394.9h4v4h-4zM101.1 414.8h4v4h-4zM76.3 422.8h4v4h-4zM89.3 395.2h4v4h-4zM74.1 419.7h4v4h-4zM69.6 435.9h4v4h-4zM72.2 402.2h4v4h-4zM55.1 439.7h4v4h-4zM39.5 436.4h4v4h-4zM100.2 422.5h4v4h-4zM99.3 394.7h4v4h-4zM94.9 427h4v4h-4zM45.9 423.1h4v4h-4zM108.4 416.2h4v4h-4zM134.1 377.5h4v4h-4zM109.8 395.7h4v4h-4zM104.7 392.3h4v4h-4zM132.8 376.9h4v4h-4zM118.9 405.7h4v4h-4zM99.2 423.9h4v4h-4zM58.3 440.2h4v4h-4zM44.9 432.3h4v4h-4zM56.2 418.9h4v4h-4zM106.3 428.6h4v4h-4zM99.6 423.3h4v4h-4zM83 428.3h4v4h-4zM60.7 437.1h4v4h-4zM86.6 433.1h4v4h-4zM88.7 434.5h4v4h-4zM108 418.8h4v4h-4zM133 376.6h4v4h-4zM107.9 421.1h4v4h-4zM75.4 409.7h4v4h-4zM94.1 422.8h4v4h-4zM62.1 417.6h4v4h-4zM83 398.6h4v4h-4zM77.3 421.5h4v4h-4zM72.8 417.9h4v4h-4zM99.8 400h4v4h-4zM101.5 420.2h4v4h-4zM111.9 380.5h4v4h-4zM102.2 400.8h4v4h-4zM78.6 421.3h4v4h-4zM48.6 418.7h4v4h-4zM131.6 392.2h4v4h-4zM117 398.2h4v4h-4zM103 408.3h4v4h-4zM68.1 405.7h4v4h-4zM107.6 390.2h4v4h-4zM127.3 371.1h4v4h-4zM97.4 401h4v4h-4zM111.4 414.1h4v4h-4zM96.2 389.6h4v4h-4zM87.4 403.2h4v4h-4zM80.1 407.8h4v4h-4zM65.1 412.9h4v4h-4zM48.4 445.2h4v4h-4zM127.1 410.7h4v4h-4zM124.6 399.9h4v4h-4zM75.2 411.3h4v4h-4zM119.2 392.3h4v4h-4zM110.8 397.5h4v4h-4zM67.1 408.6h4v4h-4zM44.1 420.9h4v4h-4zM103.7 420.5h4v4h-4zM56.2 431.2h4v4h-4zM46.5 429.5h4v4h-4zM102.7 379.8h4v4h-4zM81.8 421.7h4v4h-4zM122 397h4v4h-4zM38.7 429.2h4v4h-4zM126 373h4v4h-4zM78.3 400.1h4v4h-4zM96.5 430.5h4v4h-4zM81.5 438.5h4v4h-4zM124 394.2h4v4h-4zM130.9 383.7h4v4h-4zM99.9 390h4v4h-4zM90.6 402.3h4v4h-4zM109.3 383.3h4v4h-4zM68.5 434.5h4v4h-4zM124.1 382.7h4v4h-4zM48.5 416.1h4v4h-4zM103.9 423.3h4v4h-4zM121.7 394.8h4v4h-4zM67 437.5h4v4h-4zM99.4 414.3h4v4h-4zM75 401.4h4v4h-4zM67.5 430.3h4v4h-4zM71.6 437.6h4v4h-4zM72 433.5h4v4h-4zM106.4 387.9h4v4h-4zM81.3 423.3h4v4h-4zM45.1 441.6h4v4h-4zM45.7 416.9h4v4h-4zM128.1 379.9h4v4h-4zM100.3 432.3h4v4h-4zM114.6 413h4v4h-4zM87.8 413.3h4v4h-4zM77.6 412.8h4v4h-4zM126.8 395.2h4v4h-4zM80.4 402.5h4v4h-4zM124.3 386.8h4v4h-4zM80.3 427.9h4v4h-4zM75.4 436.3h4v4h-4zM80.3 396.5h4v4h-4zM70 434.2h4v4h-4zM129.5 381.1h4v4h-4zM127.4 380h4v4h-4zM63 431.1h4v4h-4zM49.7 445.1h4v4h-4zM90.7 410.5h4v4h-4zM95.4 411.8h4v4h-4zM94.9 422.1h4v4h-4zM133.5 373.7h4v4h-4zM127.9 392.5h4v4h-4zM96.9 392.3h4v4h-4zM37.4 438.7h4v4h-4zM98.5 405.7h4v4h-4zM106 396.2h4v4h-4zM49.4 418.8h4v4h-4zM76 438h4v4h-4zM56 443.2h4v4h-4zM69.6 406.1h4v4h-4zM67.7 421.7h4v4h-4zM46 443.7h4v4h-4zM41 435.6h4v4h-4zM124.6 383h4v4h-4zM73.9 408.2h4v4h-4zM67.2 433.8h4v4h-4zM127.8 380.9h4v4h-4zM91.6 424.4h4v4h-4zM41.7 439.9h4v4h-4zM57.3 439.7h4v4h-4zM45.1 389.8h4v4h-4zM55.1 390.7h4v4h-4zM63.3 389.8h4v4h-4zM66 385.3h4v4h-4zM72.4 390.7h4v4h-4zM47.8 401.6h4v4h-4zM46 406.2h4v4h-4zM64.2 401.6h4v4h-4zM85.1 378h4v4h-4zM86.9 380.7h4v4h-4zM96 375.3h4v4h-4zM44.2 412.5h4v4h-4zM120.5 437.1h4v4h-4zM91.5 443h4v4h-4zM98 443.5h4v4h-4zM103 443h4v4h-4zM108 442.5h4v4h-4zM112 443.5h4v4h-4zM116 443h4v4h-4zM122.4 355.9h4v4h-4zM109.3 362.4h4v4h-4zM144 349.3h4v4h-4zM154.4 351.2h4v4h-4zM162.8 349.3h4v4h-4zM180.7 366.2h4v4h-4zM180.7 376.5h4v4h-4zM185.4 385h4v4h-4zM173.2 393.5h4v4h-4zM164.7 395.3h4v4h-4zM162.8 398.2h4v4h-4zM155.3 395.3h4v4h-4zM148.8 404.7h4v4h-4zM143.1 403.8h4v4h-4zM157.2 410.4h4v4h-4zM160 410.4h4v4h-4zM158.2 415.1h4v4h-4zM167.5 418.8h4v4h-4zM173.2 425.4h4v4h-4zM143.1 414.1h4v4h-4zM132.8 425.4h4v4h-4zM143.1 430.1h4v4h-4zM158.2 435.7h4v4h-4zM128.1 416h4v4h-4zM135.6 413.2h4v4h-4zM228.2 406.5h4v4h-4zM172.5 393.5h4v4h-4zM164.9 395.6h4v4h-4zM161.6 397.8h4v4h-4zM155.1 395.6h4v4h-4zM160.5 409.8h4v4h-4zM157.3 412h4v4h-4zM158.4 415.3h4v4h-4zM167.1 419.6h4v4h-4zM170.4 421.8h4v4h-4zM173.6 426.2h4v4h-4zM158.4 435.6h4v4h-4zM143.1 430.5h4v4h-4zM143.1 414.2h4v4h-4zM134.4 414.2h4v4h-4zM127.8 416.4h4v4h-4zM132.2 426.2h4v4h-4zM126.7 432.7h4v4h-4zM133.3 433.8h4v4h-4zM134.4 438.2h4v4h-4zM120.2 437.1h4v4h-4zM132.2 445.2h4v4h-4zM122.4 431.6h4v4h-4zM120.2 424h4v4h-4zM124.5 421.8h4v4h-4zM94.7 361.6h4v4h-4zM96.4 363.2h4v4h-4zM109.5 362.4h4v4h-4zM103.7 368.1h4v4h-4zM94.7 375.5h4v4h-4zM84.9 377.1h4v4h-4zM86.6 379.6h4v4h-4zM96.4 385.3h4v4h-4zM66.1 384.5h4v4h-4zM65.3 386.9h4v4h-4zM62.8 390.2h4v4h-4zM55.5 391h4v4h-4zM45.6 389.4h4v4h-4zM71.8 391h4v4h-4zM76.7 391h4v4h-4zM48.9 400.8h4v4h-4zM65.3 402.5h4v4h-4zM71 400h4v4h-4zM144.5 349.8h4v4h-4zM154.7 350.5h4v4h-4zM163.5 349.8h4v4h-4zM181.6 364.4h4v4h-4zM180.2 368h4v4h-4zM180.9 376h4v4h-4zM185.3 384.7h4v4h-4zM172.9 393.5h4v4h-4zM165.6 394.9h4v4h-4zM155.5 395.6h4v4h-4z" fill="#000"/>
<path d="M27.9 467v4M27.9 276v3.2M27.9 467h-4M265.1 467h-3.2M40.4 467v2M40.4 276v2M27.9 456.9h-2M265.1 456.9h-2M52.9 467v4M52.9 276v3.2M27.9 446.9h-4M265.1 446.9h-3.2M65.4 467v2M65.4 276v2M27.9 436.8h-2M265.1 436.8h-2M77.8 467v4M77.8 276v3.2M27.9 426.8h-4M265.1 426.8h-3.2M90.3 467v2M90.3 276v2M27.9 416.7h-2M265.1 416.7h-2M102.8 467v4M102.8 276v3.2M27.9 406.7h-4M265.1 406.7h-3.2M115.3 467v2M115.3 276v2M27.9 396.6h-2M265.1 396.6h-2M127.8 467v4M127.8 276v3.2M27.9 386.6h-4M265.1 386.6h-3.2M140.3 467v2M140.3 276v2M27.9 376.5h-2M265.1 376.5h-2M152.8 467v4M152.8 276v3.2M27.9 366.4h-4M265.1 366.4h-3.2M165.2 467v2M165.2 276v2M27.9 356.4h-2M265.1 356.4h-2M177.7 467v4M177.7 276v3.2M27.9 346.3h-4M265.1 346.3h-3.2M190.2 467v2M190.2 276v2M27.9 336.3h-2M265.1 336.3h-2M202.7 467v4M202.7 276v3.2M27.9 326.2h-4M265.1 326.2h-3.2M215.2 467v2M215.2 276v2M27.9 316.2h-2M265.1 316.2h-2M227.7 467v4M227.7 276v3.2M27.9 306.1h-4M265.1 306.1h-3.2M240.1 467v2M240.1 276v2M27.9 296.1h-2M265.1 296.1h-2M252.6 467v4M252.6 276v3.2M27.9 286h-4M265.1 286h-3.2M265.1 467v2M265.1 276v2M27.9 276h-2M265.1 276h-2" stroke="#6a6a6a" stroke-width="1.1" fill="none"/>
<rect x="27.9" y="276" width="237.2" height="191" fill="none" stroke="#6a6a6a" stroke-width="1.5"/>
<text x="27.9" y="480.3" class="tk" text-anchor="middle">0</text>
<text x="21.7" y="469.8" class="tk" text-anchor="end">0</text>
<text x="52.9" y="480.3" class="tk" text-anchor="middle">1</text>
<text x="21.7" y="449.7" class="tk" text-anchor="end">1</text>
<text x="77.8" y="480.3" class="tk" text-anchor="middle">2</text>
<text x="21.7" y="429.6" class="tk" text-anchor="end">2</text>
<text x="102.8" y="480.3" class="tk" text-anchor="middle">3</text>
<text x="21.7" y="409.5" class="tk" text-anchor="end">3</text>
<text x="127.8" y="480.3" class="tk" text-anchor="middle">4</text>
<text x="21.7" y="389.4" class="tk" text-anchor="end">4</text>
<text x="152.8" y="480.3" class="tk" text-anchor="middle">5</text>
<text x="21.7" y="369.2" class="tk" text-anchor="end">5</text>
<text x="177.7" y="480.3" class="tk" text-anchor="middle">6</text>
<text x="21.7" y="349.1" class="tk" text-anchor="end">6</text>
<text x="202.7" y="480.3" class="tk" text-anchor="middle">7</text>
<text x="21.7" y="329" class="tk" text-anchor="end">7</text>
<text x="227.7" y="480.3" class="tk" text-anchor="middle">8</text>
<text x="21.7" y="308.9" class="tk" text-anchor="end">8</text>
<text x="252.6" y="480.3" class="tk" text-anchor="middle">9</text>
<text x="21.7" y="288.8" class="tk" text-anchor="end">9</text>
<text x="146.5" y="495.2" class="at" text-anchor="middle">Calculated ET<tspan font-size="6.6" dy="3.2">0</tspan><tspan dy="-3.2"> (mm)</tspan></text>
<text transform="translate(10.9 372.3) rotate(-90)" class="at" text-anchor="middle">Estimated ET<tspan font-size="6.6" dy="3.2">0</tspan><tspan dy="-3.2"> (mm)</tspan></text>
<text x="34.4" y="302.2" class="an">Training (ANN)</text>
<text x="34.4" y="322.1" class="an">y = 0.7350x + 0.7018</text>
<text x="34.4" y="331.6" class="an">R² = 0.732</text>
<line x1="307.8" y1="467" x2="545" y2="276" stroke="#ff2a2a" stroke-width="1.6" stroke-dasharray="1.6 4.2" />
<path d="M378.2 394h4v4h-4zM340.4 440.2h4v4h-4zM379.9 411.3h4v4h-4zM336.8 409.7h4v4h-4zM356.7 417.4h4v4h-4zM353.6 443.3h4v4h-4zM366.6 414.6h4v4h-4zM356.1 395.6h4v4h-4zM371.5 392.3h4v4h-4zM382.5 389h4v4h-4zM337.8 440.7h4v4h-4zM357.1 438.3h4v4h-4zM367.4 430.8h4v4h-4zM356.9 440h4v4h-4zM345.3 420.6h4v4h-4zM381.4 405h4v4h-4zM394.3 420h4v4h-4zM364.6 423.4h4v4h-4zM351.6 395.1h4v4h-4zM393.4 393.3h4v4h-4zM369.9 399.4h4v4h-4zM386 425.1h4v4h-4zM327.1 438.2h4v4h-4zM331.9 444.1h4v4h-4zM386.8 423.7h4v4h-4zM361.8 404.8h4v4h-4zM319.6 440.4h4v4h-4zM353.7 417h4v4h-4zM342.2 431.5h4v4h-4zM350.6 415.3h4v4h-4zM385.9 402.5h4v4h-4zM363.5 426.7h4v4h-4zM344.8 415h4v4h-4zM328.6 444.5h4v4h-4zM381 387.7h4v4h-4zM349.9 436h4v4h-4zM379.6 414.5h4v4h-4zM374.2 394.1h4v4h-4zM391.9 418.8h4v4h-4zM392.2 409.6h4v4h-4zM394.4 414.7h4v4h-4zM358 441.8h4v4h-4zM375.6 419.3h4v4h-4zM350.5 440.5h4v4h-4zM336.5 435.4h4v4h-4zM370.3 429.1h4v4h-4zM343 406.4h4v4h-4zM333.5 443.2h4v4h-4zM383.3 386h4v4h-4zM364.5 412.1h4v4h-4zM363.8 424.9h4v4h-4zM353.6 422.7h4v4h-4zM386.3 415.3h4v4h-4zM331.5 418.4h4v4h-4zM329.8 426.3h4v4h-4zM391.1 416.3h4v4h-4zM381 424.9h4v4h-4zM325.5 422.6h4v4h-4zM379.9 400.3h4v4h-4zM326.9 432.6h4v4h-4zM386.7 392h4v4h-4zM362.1 423.5h4v4h-4zM369.1 423h4v4h-4zM342.6 429.4h4v4h-4zM368.3 393.3h4v4h-4zM352.8 424.8h4v4h-4zM327.2 425.2h4v4h-4zM382.5 404.8h4v4h-4zM346.1 416.4h4v4h-4zM342.8 410.6h4v4h-4zM323.1 431.6h4v4h-4zM362.6 399.3h4v4h-4zM322.8 432.3h4v4h-4zM388.6 397.2h4v4h-4zM340.9 437.3h4v4h-4zM351.1 440.9h4v4h-4zM346.4 428.6h4v4h-4zM324.3 429.8h4v4h-4zM370.1 404.4h4v4h-4zM376.7 391.6h4v4h-4zM337.7 416.2h4v4h-4zM380.1 423.9h4v4h-4zM378.3 406.1h4v4h-4zM376.9 431.9h4v4h-4zM373.9 409.7h4v4h-4zM346.6 407.9h4v4h-4zM319.2 438.1h4v4h-4zM359.7 405.6h4v4h-4zM360.1 429.4h4v4h-4zM346.9 437.1h4v4h-4zM389.6 405.6h4v4h-4zM327.5 432.1h4v4h-4zM395.4 388.5h4v4h-4zM389.7 386.8h4v4h-4zM323.9 448.3h4v4h-4zM362.3 409.8h4v4h-4zM376.2 391.6h4v4h-4zM389.2 393.5h4v4h-4zM373.7 410.4h4v4h-4zM384.9 412.5h4v4h-4zM331.2 425.7h4v4h-4zM337.7 415.5h4v4h-4zM339.1 414.8h4v4h-4zM366.5 416.2h4v4h-4zM348 434.3h4v4h-4zM386 390.8h4v4h-4zM334.9 447.1h4v4h-4zM333.1 414.1h4v4h-4zM356.1 443.1h4v4h-4zM335.4 411.1h4v4h-4zM370.7 430.4h4v4h-4zM376.7 389.8h4v4h-4zM389.6 420.5h4v4h-4zM342.8 444.7h4v4h-4zM323.9 446.7h4v4h-4zM362.3 435.2h4v4h-4zM339 435.1h4v4h-4zM372.4 423.8h4v4h-4zM392.1 408.9h4v4h-4zM349.6 427.3h4v4h-4zM382.9 401.9h4v4h-4zM369.8 392.9h4v4h-4zM360.4 432.8h4v4h-4zM321.8 429.8h4v4h-4zM317.8 446.2h4v4h-4zM353.8 407.1h4v4h-4zM373.8 415.3h4v4h-4zM361.3 417.7h4v4h-4zM352.6 422.9h4v4h-4zM332.1 440.6h4v4h-4zM376.2 428.4h4v4h-4zM360.5 435.5h4v4h-4zM353.6 422.2h4v4h-4zM381.6 426.3h4v4h-4zM367.6 406.9h4v4h-4zM360.9 406.2h4v4h-4zM375.7 405.1h4v4h-4zM353.6 431.8h4v4h-4zM356.6 402.1h4v4h-4zM382.2 405.1h4v4h-4zM352.1 428.8h4v4h-4zM384.9 419.3h4v4h-4zM360.9 425.3h4v4h-4zM370.4 419.6h4v4h-4zM344.6 409.9h4v4h-4zM346.1 419.4h4v4h-4zM386.8 413.2h4v4h-4zM385.4 400.3h4v4h-4zM350 437h4v4h-4zM382.3 411.7h4v4h-4zM377.6 410.6h4v4h-4zM346.2 416.9h4v4h-4zM372.7 432.9h4v4h-4zM321.1 430.2h4v4h-4zM381.5 409.7h4v4h-4zM336.1 423.8h4v4h-4zM346.5 423.4h4v4h-4zM337.1 411.9h4v4h-4zM358.3 422.9h4v4h-4zM332.7 446.5h4v4h-4zM350.2 433h4v4h-4zM372.9 391.9h4v4h-4zM377.6 412.8h4v4h-4zM365.9 432.7h4v4h-4zM376.2 402.5h4v4h-4zM337 409.2h4v4h-4zM351.6 423.6h4v4h-4zM338 434.4h4v4h-4zM331.2 421.9h4v4h-4zM348.9 407.7h4v4h-4zM381.5 389.5h4v4h-4zM369.3 420.7h4v4h-4zM377.9 393.2h4v4h-4zM319.2 437.2h4v4h-4zM365.2 425.4h4v4h-4zM370.5 418.6h4v4h-4zM392.2 421.3h4v4h-4zM343.3 414.5h4v4h-4zM371.7 408h4v4h-4zM340.7 409.9h4v4h-4zM390.3 397.8h4v4h-4zM384.4 406.7h4v4h-4zM380.1 426.9h4v4h-4zM391.2 397.1h4v4h-4zM381.3 386.4h4v4h-4zM360.3 438.3h4v4h-4zM377.3 421.3h4v4h-4zM341.4 422.8h4v4h-4zM352.7 439.4h4v4h-4zM339.9 432h4v4h-4zM367.1 430.7h4v4h-4zM346.6 429.6h4v4h-4zM372.1 405.6h4v4h-4zM318.7 446.6h4v4h-4zM373.3 392.6h4v4h-4zM374.6 397.8h4v4h-4zM353.9 439.2h4v4h-4zM352.2 398.5h4v4h-4zM338.3 418.7h4v4h-4zM326.5 441h4v4h-4zM354.2 435.3h4v4h-4zM345.9 432.1h4v4h-4zM381.1 411.4h4v4h-4zM392.3 419.3h4v4h-4zM368 401h4v4h-4zM361.9 431.6h4v4h-4zM363.4 435.2h4v4h-4zM362.9 413h4v4h-4zM329.8 422.1h4v4h-4zM381.5 387.6h4v4h-4zM359.9 430.2h4v4h-4zM346.2 416.6h4v4h-4zM371.1 417.8h4v4h-4zM325.1 436.2h4v4h-4zM390 385.2h4v4h-4zM331.9 411.4h4v4h-4zM389.8 383h4v4h-4zM358.2 431.1h4v4h-4zM380.8 400.1h4v4h-4zM385.8 389.6h4v4h-4zM352.8 425.1h4v4h-4zM344.9 419.8h4v4h-4zM342.9 431.8h4v4h-4zM376.5 407h4v4h-4zM341.3 430.4h4v4h-4zM351.4 420.9h4v4h-4zM390.9 388.4h4v4h-4zM373.2 411.9h4v4h-4zM327.1 447.3h4v4h-4zM388.5 385.3h4v4h-4zM389.5 421.5h4v4h-4zM353 418.2h4v4h-4zM375.1 426.3h4v4h-4zM395.8 389.2h4v4h-4zM381.1 407.3h4v4h-4zM395.4 396.9h4v4h-4zM391.7 404.5h4v4h-4zM391.3 406.9h4v4h-4zM346.4 431.9h4v4h-4zM354 409.9h4v4h-4zM347.3 408.8h4v4h-4zM376.5 418.2h4v4h-4zM369.9 435.1h4v4h-4zM377 404.6h4v4h-4zM342.3 423.3h4v4h-4zM372 431.9h4v4h-4zM340.1 423.3h4v4h-4zM344.2 421.4h4v4h-4zM393.6 392.4h4v4h-4zM395.3 398.4h4v4h-4zM392 381h4v4h-4zM358 420.8h4v4h-4zM372.4 401.9h4v4h-4zM319.1 444h4v4h-4zM336.1 446.4h4v4h-4zM387.9 423.3h4v4h-4zM329 442.3h4v4h-4zM323.5 434.7h4v4h-4zM370.3 417h4v4h-4zM337.3 419.6h4v4h-4zM367.5 414.9h4v4h-4zM317.8 441.4h4v4h-4zM379.1 410.2h4v4h-4zM336 439.7h4v4h-4zM373.2 413.8h4v4h-4zM391.2 413.9h4v4h-4zM395.2 419.2h4v4h-4zM356.6 409h4v4h-4zM349 437.4h4v4h-4zM366.1 430h4v4h-4zM372.1 391.8h4v4h-4zM350.6 425h4v4h-4zM346.9 413.9h4v4h-4zM340.1 424.8h4v4h-4zM330.3 442.6h4v4h-4zM392.8 413.1h4v4h-4zM353.6 439.2h4v4h-4zM339.6 435.2h4v4h-4zM339.4 429.3h4v4h-4zM343.1 420.9h4v4h-4zM390.1 381.9h4v4h-4zM380.7 416.6h4v4h-4zM346.7 402.9h4v4h-4zM380.6 390.7h4v4h-4zM393.6 392.4h4v4h-4zM366 415.1h4v4h-4zM332.5 415h4v4h-4zM326.8 435h4v4h-4zM389.8 388.1h4v4h-4zM362.9 408.1h4v4h-4zM369.4 398.6h4v4h-4zM348.3 411h4v4h-4zM388.4 395.5h4v4h-4zM373.7 400h4v4h-4zM387.6 406.1h4v4h-4zM356.7 440.5h4v4h-4zM327.5 448.5h4v4h-4zM363.6 400.7h4v4h-4zM325.2 435.7h4v4h-4zM380.5 418h4v4h-4zM366.6 408.5h4v4h-4zM385.2 405.8h4v4h-4zM361.3 432.6h4v4h-4zM374.7 396.3h4v4h-4zM350.2 407.5h4v4h-4zM378.5 390.5h4v4h-4zM367.4 429.2h4v4h-4zM357.6 440.2h4v4h-4zM353.8 411.1h4v4h-4zM339.2 443.5h4v4h-4zM341.7 427.5h4v4h-4zM340.8 420.9h4v4h-4zM342.7 418.6h4v4h-4zM392.9 386.5h4v4h-4zM385.7 424.5h4v4h-4zM339.9 433.4h4v4h-4zM339.6 441.7h4v4h-4zM376.2 410h4v4h-4zM340.2 417.1h4v4h-4zM394.7 410.7h4v4h-4zM386 419.4h4v4h-4zM373.4 392h4v4h-4zM363.6 422.7h4v4h-4zM381.5 417.2h4v4h-4zM357.3 432.1h4v4h-4zM368.6 398.6h4v4h-4zM386.5 420.6h4v4h-4zM347.1 419.5h4v4h-4zM343.4 407.1h4v4h-4zM372.7 411.5h4v4h-4zM381.3 412.6h4v4h-4zM393.1 398.1h4v4h-4zM326.7 437.1h4v4h-4zM340.2 438.3h4v4h-4zM365 414.2h4v4h-4zM323.5 434h4v4h-4zM321.8 446.7h4v4h-4zM386.2 399.6h4v4h-4zM326.8 441.1h4v4h-4zM356.2 395.6h4v4h-4zM349 423.6h4v4h-4zM389.2 406.4h4v4h-4zM337.4 417.6h4v4h-4zM342 444h4v4h-4zM323.3 428.7h4v4h-4zM339.9 442.1h4v4h-4zM361 415.1h4v4h-4zM391.9 398.2h4v4h-4zM326.6 443.2h4v4h-4zM387.3 420.6h4v4h-4zM369.9 430.2h4v4h-4zM356.6 430.4h4v4h-4zM368.8 421.9h4v4h-4zM387.9 386.8h4v4h-4zM391.2 390.2h4v4h-4zM349.2 416.9h4v4h-4zM375.1 402.7h4v4h-4zM322.6 428.4h4v4h-4zM378.1 390.5h4v4h-4zM353.1 415.2h4v4h-4zM371.2 405.9h4v4h-4zM373.4 411.2h4v4h-4zM349.4 404h4v4h-4zM355.8 398h4v4h-4zM351.6 398.9h4v4h-4zM343.9 422.1h4v4h-4zM388.2 403.6h4v4h-4zM360.6 409.6h4v4h-4zM327.6 446.7h4v4h-4zM369.5 434.7h4v4h-4zM342.5 428.4h4v4h-4zM337.6 414.2h4v4h-4zM370.7 392.3h4v4h-4zM321.5 434.3h4v4h-4zM380.8 425.4h4v4h-4zM342.1 424.9h4v4h-4zM362.4 421.9h4v4h-4zM352.1 394h4v4h-4zM374.2 411h4v4h-4zM375.8 403.9h4v4h-4zM377.9 396.6h4v4h-4zM372 405h4v4h-4zM342.2 412.8h4v4h-4zM358.7 427.4h4v4h-4zM367.2 426.3h4v4h-4zM347.1 426.2h4v4h-4zM344 421.3h4v4h-4zM353.1 418.1h4v4h-4zM387.5 403.2h4v4h-4zM326.7 441.5h4v4h-4zM345.4 434.3h4v4h-4zM327.7 419.3h4v4h-4zM351 398.5h4v4h-4zM365.2 440.1h4v4h-4zM367.8 393.8h4v4h-4zM346 422.4h4v4h-4zM390.2 399.5h4v4h-4zM371.9 409.6h4v4h-4zM379.9 394.6h4v4h-4zM369 425.9h4v4h-4zM348.6 431h4v4h-4zM353.3 394.7h4v4h-4zM368 391.3h4v4h-4zM375.9 427.7h4v4h-4zM382.5 399.2h4v4h-4zM370 414.8h4v4h-4zM345.9 408h4v4h-4zM384.2 426.5h4v4h-4zM333.9 414.2h4v4h-4zM392.1 384.1h4v4h-4zM357 434.8h4v4h-4zM351.6 403.2h4v4h-4zM395.1 401.9h4v4h-4zM334.8 444.9h4v4h-4zM327.6 446.8h4v4h-4zM384.4 424.1h4v4h-4zM344.3 407h4v4h-4zM389.9 416.2h4v4h-4zM328.2 417.4h4v4h-4zM391.5 402.1h4v4h-4zM368.4 410.8h4v4h-4zM337 433.6h4v4h-4zM355.4 416.1h4v4h-4zM352.9 426.1h4v4h-4zM351.6 398.9h4v4h-4zM350.1 432.9h4v4h-4zM354.6 426.1h4v4h-4zM367.9 429.6h4v4h-4zM340.2 435.2h4v4h-4zM390 420.4h4v4h-4zM384.2 422.5h4v4h-4zM395.3 382.9h4v4h-4zM345.7 434.7h4v4h-4zM348.5 423.4h4v4h-4zM371.2 410.2h4v4h-4zM331.5 446.8h4v4h-4zM353.6 429.1h4v4h-4zM349.5 400.9h4v4h-4zM345.4 436.2h4v4h-4zM380.7 416h4v4h-4zM351.4 397h4v4h-4zM387.1 399.3h4v4h-4zM355.4 438h4v4h-4zM353.2 396.8h4v4h-4zM354.8 401.9h4v4h-4zM347.1 411h4v4h-4zM370.4 397.3h4v4h-4zM382.7 397.7h4v4h-4zM342.3 429.5h4v4h-4zM366.5 417.8h4v4h-4zM334.3 440.3h4v4h-4zM377 414.5h4v4h-4zM352.2 398.4h4v4h-4zM346.5 422.1h4v4h-4zM379.7 414.5h4v4h-4zM353 428.8h4v4h-4zM381 425.6h4v4h-4zM373.9 389.2h4v4h-4zM372.1 396.1h4v4h-4zM368.8 431.3h4v4h-4zM378.2 387.2h4v4h-4zM367.5 437.7h4v4h-4zM337.9 410.9h4v4h-4zM330.3 416.4h4v4h-4zM343.9 424.6h4v4h-4zM358.8 426.9h4v4h-4zM336.2 428.3h4v4h-4zM374.9 429.4h4v4h-4zM322 445.4h4v4h-4zM362.4 397.4h4v4h-4zM351.1 414.9h4v4h-4zM378.6 409.1h4v4h-4zM394.2 398.9h4v4h-4zM359.3 403.5h4v4h-4zM320.8 442.1h4v4h-4zM390.9 391.3h4v4h-4zM349.8 404.6h4v4h-4zM329.9 425.1h4v4h-4zM378.7 432.1h4v4h-4zM334.8 414.6h4v4h-4zM372.4 405.5h4v4h-4zM352.3 437.9h4v4h-4zM349.7 424.2h4v4h-4zM328.8 437.8h4v4h-4zM332.2 428.1h4v4h-4zM329.4 440.8h4v4h-4zM332.6 430.1h4v4h-4zM383.2 396.2h4v4h-4zM356.2 412.1h4v4h-4zM378.6 411h4v4h-4zM356.1 412.7h4v4h-4zM352.7 406.9h4v4h-4zM378.8 386.1h4v4h-4zM332.9 415.5h4v4h-4zM346.2 413.7h4v4h-4zM384.3 408.6h4v4h-4zM352.5 407.6h4v4h-4zM335.6 445.8h4v4h-4zM369.2 420h4v4h-4zM338.7 444.7h4v4h-4zM349.1 420.5h4v4h-4zM323.8 441.4h4v4h-4zM322.6 442.1h4v4h-4zM371.2 404.3h4v4h-4zM342.5 438.3h4v4h-4zM426.9 361.3h4v4h-4zM420.8 374.7h4v4h-4zM409.9 368.4h4v4h-4zM434.8 358.9h4v4h-4zM403.1 403.9h4v4h-4zM421 364h4v4h-4zM429 358.5h4v4h-4zM400.4 376.9h4v4h-4zM424.8 370.1h4v4h-4zM428.2 373.3h4v4h-4zM423.5 384.5h4v4h-4zM418.3 386.4h4v4h-4zM432.2 372.9h4v4h-4zM411.4 382.3h4v4h-4zM425.8 365.3h4v4h-4zM412.4 393.2h4v4h-4zM422.7 383.3h4v4h-4zM428.8 372.1h4v4h-4zM418.3 368.2h4v4h-4zM433.8 375.9h4v4h-4zM397.6 407.3h4v4h-4zM432 359.1h4v4h-4zM433.7 383.4h4v4h-4zM399.9 413.8h4v4h-4zM448.2 361.1h4v4h-4zM414.9 384.8h4v4h-4zM400 408.9h4v4h-4zM446.7 361.5h4v4h-4zM435.4 369.2h4v4h-4zM418 369.5h4v4h-4zM396.3 402.8h4v4h-4zM407.4 362.2h4v4h-4zM428.8 383.2h4v4h-4zM436.9 377.9h4v4h-4zM420 365.6h4v4h-4zM432.1 383.8h4v4h-4zM418 396.6h4v4h-4zM434.7 355.1h4v4h-4zM442.2 356.2h4v4h-4zM397.4 408.3h4v4h-4zM433.3 373.6h4v4h-4zM438.5 357.1h4v4h-4zM427.5 373.3h4v4h-4zM442.7 376.3h4v4h-4zM450.3 370.7h4v4h-4zM432.1 370.3h4v4h-4zM405 393.5h4v4h-4zM439.7 368.4h4v4h-4zM430.5 373.8h4v4h-4zM401.9 367.7h4v4h-4zM434.4 365.7h4v4h-4zM434.6 380.9h4v4h-4zM400.8 399.1h4v4h-4zM406.7 402.9h4v4h-4zM402 382h4v4h-4zM408.3 369.4h4v4h-4zM409.2 364.2h4v4h-4zM403.8 368.4h4v4h-4zM442.3 377h4v4h-4zM400.1 409.6h4v4h-4zM401.3 380.8h4v4h-4zM417.5 365.6h4v4h-4zM424 360h4v4h-4zM403.7 388.6h4v4h-4zM436.5 358.8h4v4h-4zM427.2 361.5h4v4h-4zM409.2 397.8h4v4h-4zM417.6 395.7h4v4h-4zM442.3 378h4v4h-4zM438.5 376.3h4v4h-4zM414.1 362.4h4v4h-4zM436.3 373.4h4v4h-4zM412.8 363.8h4v4h-4zM421 377.4h4v4h-4zM431 367.6h4v4h-4zM420.9 378.9h4v4h-4zM399 383.7h4v4h-4zM402.4 369.8h4v4h-4zM421.6 367.9h4v4h-4zM400.9 407.5h4v4h-4zM450.6 362.9h4v4h-4zM447 367.1h4v4h-4zM406.8 395.8h4v4h-4zM438.2 379.2h4v4h-4zM447.7 354.7h4v4h-4zM422.9 379.6h4v4h-4zM429.5 367.1h4v4h-4zM415.1 368.2h4v4h-4zM440.8 365h4v4h-4zM413.3 390.2h4v4h-4zM451.4 366.1h4v4h-4zM422.3 368.5h4v4h-4zM439.3 364.2h4v4h-4zM404.7 365.5h4v4h-4zM423.1 371.9h4v4h-4zM408.1 388.6h4v4h-4zM404.2 405.7h4v4h-4zM401.1 379.2h4v4h-4zM426.7 372.5h4v4h-4zM450.7 363.1h4v4h-4zM403.9 384.9h4v4h-4zM449.7 365.5h4v4h-4zM413.3 382.1h4v4h-4zM445.4 354.1h4v4h-4zM409.9 392h4v4h-4zM396.9 414.4h4v4h-4zM411 365.7h4v4h-4zM396.1 380.3h4v4h-4zM407 387.6h4v4h-4zM409.6 398.3h4v4h-4zM397 375.6h4v4h-4zM420.3 360.9h4v4h-4zM403.4 368.6h4v4h-4zM439.2 367.8h4v4h-4zM397.9 390.1h4v4h-4zM425.9 387.9h4v4h-4zM432.7 356.2h4v4h-4zM406.9 369.1h4v4h-4zM416.1 398.5h4v4h-4zM441.5 356.8h4v4h-4zM409.4 391.5h4v4h-4zM400.5 382.3h4v4h-4zM440.8 379.1h4v4h-4zM453.1 357.3h4v4h-4zM449.4 355.7h4v4h-4zM427.4 371.1h4v4h-4zM423.9 388.5h4v4h-4zM410.7 396.5h4v4h-4zM410.9 399.6h4v4h-4zM418.5 357.6h4v4h-4zM422.3 378.3h4v4h-4zM406.6 405.9h4v4h-4zM451.4 356.2h4v4h-4zM413 377.4h4v4h-4zM403.5 368.8h4v4h-4zM406.9 398.7h4v4h-4zM397.6 410.1h4v4h-4zM401.6 395.2h4v4h-4zM438.3 377.4h4v4h-4zM406.9 393.2h4v4h-4zM406.5 376.2h4v4h-4zM417 392.5h4v4h-4zM418.8 396.3h4v4h-4zM436.2 370.5h4v4h-4zM395.8 376.3h4v4h-4zM421.3 364.1h4v4h-4zM411.2 368.8h4v4h-4zM416.8 393.4h4v4h-4zM438.8 354.6h4v4h-4zM427.4 378h4v4h-4zM399.8 402.4h4v4h-4zM426.6 380h4v4h-4zM430 377.5h4v4h-4zM406.3 406.2h4v4h-4zM419.4 389.9h4v4h-4zM420.5 382h4v4h-4zM424.9 388.1h4v4h-4zM404 406.2h4v4h-4zM413.4 370.7h4v4h-4zM403.1 386.8h4v4h-4zM427.2 357.4h4v4h-4zM454.5 358.7h4v4h-4zM399.8 411h4v4h-4zM430.4 384.2h4v4h-4zM439.1 353.8h4v4h-4zM425.1 372.3h4v4h-4zM396.5 390h4v4h-4zM429.5 383.6h4v4h-4zM414.5 393h4v4h-4zM448.7 366.6h4v4h-4zM420 389.9h4v4h-4zM444.6 358.8h4v4h-4zM402 385.3h4v4h-4zM406.7 382.4h4v4h-4zM405 397.9h4v4h-4zM407.1 384h4v4h-4zM436.5 358h4v4h-4zM402.6 403.2h4v4h-4zM397.5 407h4v4h-4zM401.6 402.3h4v4h-4zM414 396h4v4h-4zM402.9 366h4v4h-4zM416.3 373.9h4v4h-4zM437.6 367.7h4v4h-4zM409.8 393.1h4v4h-4zM441.1 361.8h4v4h-4zM410.8 380.2h4v4h-4zM398.8 399.6h4v4h-4zM410.3 365.7h4v4h-4zM401.5 397.2h4v4h-4zM429.6 379.9h4v4h-4zM431.9 381.7h4v4h-4zM415.3 371.3h4v4h-4zM444.7 375.1h4v4h-4zM398.5 391.8h4v4h-4zM447.9 353h4v4h-4zM412.4 362.2h4v4h-4zM424.1 380.2h4v4h-4zM400.2 410.1h4v4h-4zM421.2 392.5h4v4h-4zM405 395.9h4v4h-4zM444.4 364.4h4v4h-4zM401.7 400.8h4v4h-4zM396.8 375.3h4v4h-4zM447.4 364.6h4v4h-4zM445 372.3h4v4h-4zM441.9 365.9h4v4h-4zM440.2 365.8h4v4h-4zM411.9 393h4v4h-4zM401 377.8h4v4h-4zM427.8 368.8h4v4h-4zM438.3 380h4v4h-4zM434.8 361.9h4v4h-4zM417.4 379h4v4h-4zM431.1 364.9h4v4h-4zM416.4 388.5h4v4h-4zM412.5 390.2h4v4h-4zM434 370.4h4v4h-4zM423.9 379.4h4v4h-4zM406.5 372.6h4v4h-4zM443.1 376.5h4v4h-4zM408.7 405.3h4v4h-4zM440.5 364.3h4v4h-4zM447.1 352.9h4v4h-4zM409.8 382.2h4v4h-4zM425.1 364.1h4v4h-4zM403 399h4v4h-4zM432.1 376.8h4v4h-4zM419.6 371.3h4v4h-4zM396 380.9h4v4h-4zM440.2 357.2h4v4h-4zM410.4 399.7h4v4h-4zM441.7 357.2h4v4h-4zM432.7 373.2h4v4h-4zM424.3 372.4h4v4h-4zM439.6 364.6h4v4h-4zM422.7 375.3h4v4h-4zM397 394.5h4v4h-4zM428.2 363h4v4h-4zM413.1 393.1h4v4h-4zM399.7 408h4v4h-4zM400.2 411.5h4v4h-4zM400.9 400h4v4h-4zM408.5 403.7h4v4h-4zM413.1 385.2h4v4h-4zM316.6 403.4h4v4h-4zM320.7 418.9h4v4h-4zM342 448.4h4v4h-4zM386.2 424.6h4v4h-4zM390.3 438.6h4v4h-4zM395.2 436.1h4v4h-4zM353.5 393.5h4v4h-4zM349.4 401.7h4v4h-4zM402.5 356.2h4v4h-4zM408 358.9h4v4h-4zM378.9 364.4h4v4h-4zM378 370.7h4v4h-4zM386.2 368h4v4h-4zM393.5 365.3h4v4h-4zM375.3 377.1h4v4h-4zM384.4 375.3h4v4h-4zM435.3 348h4v4h-4zM448 348.9h4v4h-4zM464.4 361.6h4v4h-4zM456.2 374.4h4v4h-4zM442.5 383.5h4v4h-4zM445.3 389.8h4v4h-4zM435.3 394.4h4v4h-4zM428 394.4h4v4h-4zM420.7 398h4v4h-4zM419.8 402.5h4v4h-4zM415.3 406.2h4v4h-4zM469.8 393.5h4v4h-4zM454.4 419.5h4v4h-4zM445.3 389.8h4v4h-4zM436.2 394.4h4v4h-4zM428.9 395.3h4v4h-4zM441.6 383.5h4v4h-4zM436.2 382.5h4v4h-4zM429.8 385.3h4v4h-4zM420.7 398h4v4h-4zM419.8 402.5h4v4h-4zM420.7 409.8h4v4h-4zM414.4 412.5h4v4h-4zM414.4 421.6h4v4h-4zM415.3 429.8h4v4h-4zM426.2 431.6h4v4h-4zM406.2 428.9h4v4h-4zM406.2 431.6h4v4h-4zM400.7 419.8h4v4h-4zM398 436.2h4v4h-4zM390.7 438.9h4v4h-4zM409.8 438h4v4h-4zM410.7 442.5h4v4h-4zM415.3 441.6h4v4h-4zM406.2 412.5h4v4h-4zM448.6 349.1h4v4h-4zM465 361.7h4v4h-4zM469.1 360.9h4v4h-4zM469.9 393.3h4v4h-4zM455.2 374h4v4h-4zM450.3 373.2h4v4h-4zM447.8 378.1h4v4h-4zM442.1 383.8h4v4h-4zM445.4 390.4h4v4h-4zM453.5 360.9h4v4h-4zM451.9 365.8h4v4h-4zM379.5 364.4h4v4h-4zM377.6 370.7h4v4h-4zM374.4 377.7h4v4h-4zM387.8 368.8h4v4h-4zM392.9 363.7h4v4h-4zM384 374.5h4v4h-4zM385.9 376.4h4v4h-4zM394.2 368.2h4v4h-4zM368.7 389.8h4v4h-4zM372.5 387.9h4v4h-4z" fill="#000"/>
<path d="M307.8 467v4M307.8 276v3.2M307.8 467h-4M545 467h-3.2M320.3 467v2M320.3 276v2M307.8 456.9h-2M545 456.9h-2M332.8 467v4M332.8 276v3.2M307.8 446.9h-4M545 446.9h-3.2M345.3 467v2M345.3 276v2M307.8 436.8h-2M545 436.8h-2M357.7 467v4M357.7 276v3.2M307.8 426.8h-4M545 426.8h-3.2M370.2 467v2M370.2 276v2M307.8 416.7h-2M545 416.7h-2M382.7 467v4M382.7 276v3.2M307.8 406.7h-4M545 406.7h-3.2M395.2 467v2M395.2 276v2M307.8 396.6h-2M545 396.6h-2M407.7 467v4M407.7 276v3.2M307.8 386.6h-4M545 386.6h-3.2M420.2 467v2M420.2 276v2M307.8 376.5h-2M545 376.5h-2M432.6 467v4M432.6 276v3.2M307.8 366.4h-4M545 366.4h-3.2M445.1 467v2M445.1 276v2M307.8 356.4h-2M545 356.4h-2M457.6 467v4M457.6 276v3.2M307.8 346.3h-4M545 346.3h-3.2M470.1 467v2M470.1 276v2M307.8 336.3h-2M545 336.3h-2M482.6 467v4M482.6 276v3.2M307.8 326.2h-4M545 326.2h-3.2M495.1 467v2M495.1 276v2M307.8 316.2h-2M545 316.2h-2M507.6 467v4M507.6 276v3.2M307.8 306.1h-4M545 306.1h-3.2M520 467v2M520 276v2M307.8 296.1h-2M545 296.1h-2M532.5 467v4M532.5 276v3.2M307.8 286h-4M545 286h-3.2M545 467v2M545 276v2M307.8 276h-2M545 276h-2" stroke="#6a6a6a" stroke-width="1.1" fill="none"/>
<rect x="307.8" y="276" width="237.2" height="191" fill="none" stroke="#6a6a6a" stroke-width="1.5"/>
<text x="307.8" y="480.3" class="tk" text-anchor="middle">0</text>
<text x="301.6" y="469.8" class="tk" text-anchor="end">0</text>
<text x="332.8" y="480.3" class="tk" text-anchor="middle">1</text>
<text x="301.6" y="449.7" class="tk" text-anchor="end">1</text>
<text x="357.7" y="480.3" class="tk" text-anchor="middle">2</text>
<text x="301.6" y="429.6" class="tk" text-anchor="end">2</text>
<text x="382.7" y="480.3" class="tk" text-anchor="middle">3</text>
<text x="301.6" y="409.5" class="tk" text-anchor="end">3</text>
<text x="407.7" y="480.3" class="tk" text-anchor="middle">4</text>
<text x="301.6" y="389.4" class="tk" text-anchor="end">4</text>
<text x="432.6" y="480.3" class="tk" text-anchor="middle">5</text>
<text x="301.6" y="369.2" class="tk" text-anchor="end">5</text>
<text x="457.6" y="480.3" class="tk" text-anchor="middle">6</text>
<text x="301.6" y="349.1" class="tk" text-anchor="end">6</text>
<text x="482.6" y="480.3" class="tk" text-anchor="middle">7</text>
<text x="301.6" y="329" class="tk" text-anchor="end">7</text>
<text x="507.6" y="480.3" class="tk" text-anchor="middle">8</text>
<text x="301.6" y="308.9" class="tk" text-anchor="end">8</text>
<text x="532.5" y="480.3" class="tk" text-anchor="middle">9</text>
<text x="301.6" y="288.8" class="tk" text-anchor="end">9</text>
<text x="426.4" y="495.2" class="at" text-anchor="middle">Calculated ET<tspan font-size="6.6" dy="3.2">0</tspan><tspan dy="-3.2"> (mm)</tspan></text>
<text transform="translate(290.8 372.3) rotate(-90)" class="at" text-anchor="middle">Estimated ET<tspan font-size="6.6" dy="3.2">0</tspan><tspan dy="-3.2"> (mm)</tspan></text>
<text x="314.3" y="302.2" class="an">Testing (ANN)</text>
<text x="314.3" y="322.1" class="an">y = 0.7531x + 0.6817</text>
<text x="314.3" y="331.6" class="an">R² = 0.760</text>
<text x="273.8" y="259.3" class="lab" text-anchor="middle">(a)</text>
<text x="273.8" y="525.8" class="lab" text-anchor="middle">(b)</text>
</svg>
</body></html>
